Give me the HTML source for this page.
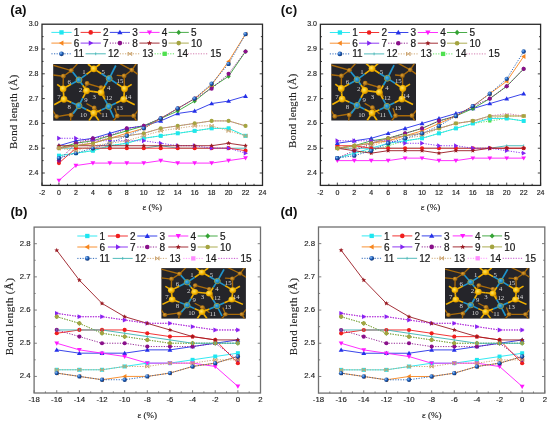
<!DOCTYPE html>
<html><head><meta charset="utf-8"><style>
html,body{margin:0;padding:0;background:#fff;}
svg{display:block;filter:blur(0.3px);}
.tl{font-family:"Liberation Sans", sans-serif;font-size:7px;fill:#222;stroke:#222;stroke-width:0.15px;}
.tl2{font-family:"Liberation Sans", sans-serif;font-size:7.8px;fill:#222;stroke:#222;stroke-width:0.15px;}
.lg{font-family:"Liberation Sans", sans-serif;font-size:10px;fill:#1a1a1a;stroke:#1a1a1a;stroke-width:0.22px;}
.ax{font-family:"Liberation Serif", serif;font-size:10.8px;letter-spacing:0.25px;fill:#222;stroke:#222;stroke-width:0.1px;}
.ax2{font-family:"Liberation Serif", serif;font-size:11px;letter-spacing:0.35px;fill:#222;stroke:#222;stroke-width:0.1px;}
.xt{font-family:"Liberation Serif", serif;font-size:9px;fill:#222;stroke:#222;stroke-width:0.15px;}
.pl{font-family:"Liberation Sans", sans-serif;font-size:13.4px;font-weight:bold;fill:#111;}
.ml{font-family:"Liberation Serif", serif;font-size:6.8px;fill:#dadada;}
</style></head><body>
<svg width="550" height="421" viewBox="0 0 550 421">
<defs>
<radialGradient id="sph" cx="0.35" cy="0.35" r="0.7"><stop offset="0" stop-color="#8fc4ff"/><stop offset="0.5" stop-color="#1d5cb5"/><stop offset="1" stop-color="#0c2e6a"/></radialGradient>
<radialGradient id="ysph" cx="0.4" cy="0.4" r="0.65"><stop offset="0" stop-color="#ffe060"/><stop offset="0.6" stop-color="#f5b800"/><stop offset="1" stop-color="#c88400"/></radialGradient>
<radialGradient id="brsph" cx="0.4" cy="0.4" r="0.65"><stop offset="0" stop-color="#e0a030"/><stop offset="1" stop-color="#8a5606"/></radialGradient>
<radialGradient id="bsph" cx="0.4" cy="0.4" r="0.65"><stop offset="0" stop-color="#40b8f0"/><stop offset="0.7" stop-color="#1a7fb8"/><stop offset="1" stop-color="#0c5a8a"/></radialGradient>
<clipPath id="mclip"><rect x="0" y="0" width="85" height="57"/></clipPath>
<g id="mol"><rect x="0" y="0" width="85" height="57" fill="#25252a"/><g clip-path="url(#mclip)">
<path d="M-1 1L18.2 6.6L25 -1M18.2 6.6L10.2 12.3L-1 11M10.2 12.3L10 22M34.1 19.6L48.2 23.7M34.1 19.6L30 28M48.2 23.7L52 33M79.2 6.1L71.4 12L64.5 11.4M79.2 6.1L86 11M71.4 12L71.6 22M66 -1L79.2 6.1L84 -1M3.5 52.9L18 50.5L24 45M-1 46L3.5 52.9M18 50.5L17.4 58M41.3 44.2L48 50M41.3 44.2L34 40M64.5 52.2L81 52.2L86 46M64.5 52.2L60 58M81 52.2L84 58M64.5 52.2L62 45" stroke="#a86a0a" stroke-width="1.4" fill="none" stroke-linecap="round"/>
<circle cx="18.2" cy="6.6" r="2.4" fill="url(#brsph)"/>
<circle cx="10.2" cy="12.3" r="2.4" fill="url(#brsph)"/>
<circle cx="34.1" cy="19.6" r="2.4" fill="url(#brsph)"/>
<circle cx="48.2" cy="23.7" r="2.4" fill="url(#brsph)"/>
<circle cx="79.2" cy="6.1" r="2.4" fill="url(#brsph)"/>
<circle cx="71.4" cy="12" r="2.4" fill="url(#brsph)"/>
<circle cx="3.5" cy="52.9" r="2.4" fill="url(#brsph)"/>
<circle cx="18" cy="51.5" r="2.4" fill="url(#brsph)"/>
<circle cx="64.5" cy="52.2" r="2.4" fill="url(#brsph)"/>
<circle cx="81" cy="52.2" r="2.4" fill="url(#brsph)"/>
<circle cx="41.3" cy="44.2" r="2.4" fill="url(#brsph)"/>
<path d="M40.9 4.9L35 0" stroke="#f0b000" stroke-width="1.7"/>
<path d="M40.9 4.9L47 0" stroke="#f0b000" stroke-width="1.7"/>
<path d="M25.9 16L19.5 8" stroke="#1e94cc" stroke-width="1.7"/>
<path d="M56.3 14.6L63 1.5" stroke="#1e94cc" stroke-width="1.7"/>
<path d="M10 24.9L4 20.5" stroke="#f0b000" stroke-width="1.7"/>
<path d="M10.9 35.5L1 41" stroke="#f0b000" stroke-width="1.7"/>
<path d="M71.8 24.9L79 20.5" stroke="#f0b000" stroke-width="1.7"/>
<path d="M70.9 35.5L82 41" stroke="#f0b000" stroke-width="1.7"/>
<path d="M25.9 41.9L20 50" stroke="#1e94cc" stroke-width="1.7"/>
<path d="M55.9 42.8L61 54" stroke="#1e94cc" stroke-width="1.7"/>
<path d="M40.9 49.5L36 57" stroke="#f0b000" stroke-width="1.7"/>
<path d="M40.9 49.5L46 57" stroke="#f0b000" stroke-width="1.7"/>
<path d="M40.9 4.9L33.40 10.45" stroke="#f0b000" stroke-width="1.7"/>
<path d="M33.40 10.45L25.9 16" stroke="#1e94cc" stroke-width="1.7"/>
<path d="M40.9 4.9L48.60 9.75" stroke="#f0b000" stroke-width="1.7"/>
<path d="M48.60 9.75L56.3 14.6" stroke="#1e94cc" stroke-width="1.7"/>
<path d="M25.9 16L29.75 21.45" stroke="#1e94cc" stroke-width="1.7"/>
<path d="M29.75 21.45L33.6 26.9" stroke="#f0b000" stroke-width="1.7"/>
<path d="M33.6 26.9L40.90 27.80" stroke="#f0b000" stroke-width="1.7"/>
<path d="M40.90 27.80L48.2 28.7" stroke="#f0b000" stroke-width="1.7"/>
<path d="M48.2 28.7L52.25 21.65" stroke="#f0b000" stroke-width="1.7"/>
<path d="M52.25 21.65L56.3 14.6" stroke="#1e94cc" stroke-width="1.7"/>
<path d="M25.9 16L17.95 20.45" stroke="#1e94cc" stroke-width="1.7"/>
<path d="M17.95 20.45L10 24.9" stroke="#f0b000" stroke-width="1.7"/>
<path d="M10 24.9L10.45 30.20" stroke="#f0b000" stroke-width="1.7"/>
<path d="M10.45 30.20L10.9 35.5" stroke="#f0b000" stroke-width="1.7"/>
<path d="M10.9 35.5L18.40 38.70" stroke="#f0b000" stroke-width="1.7"/>
<path d="M18.40 38.70L25.9 41.9" stroke="#1e94cc" stroke-width="1.7"/>
<path d="M33.6 26.9L29.75 34.40" stroke="#f0b000" stroke-width="1.7"/>
<path d="M29.75 34.40L25.9 41.9" stroke="#1e94cc" stroke-width="1.7"/>
<path d="M25.9 41.9L33.40 45.70" stroke="#1e94cc" stroke-width="1.7"/>
<path d="M33.40 45.70L40.9 49.5" stroke="#f0b000" stroke-width="1.7"/>
<path d="M40.9 49.5L48.40 46.15" stroke="#f0b000" stroke-width="1.7"/>
<path d="M48.40 46.15L55.9 42.8" stroke="#1e94cc" stroke-width="1.7"/>
<path d="M48.2 28.7L52.05 35.75" stroke="#f0b000" stroke-width="1.7"/>
<path d="M52.05 35.75L55.9 42.8" stroke="#1e94cc" stroke-width="1.7"/>
<path d="M55.9 42.8L63.40 39.15" stroke="#1e94cc" stroke-width="1.7"/>
<path d="M63.40 39.15L70.9 35.5" stroke="#f0b000" stroke-width="1.7"/>
<path d="M70.9 35.5L71.35 30.20" stroke="#f0b000" stroke-width="1.7"/>
<path d="M71.35 30.20L71.8 24.9" stroke="#f0b000" stroke-width="1.7"/>
<path d="M71.8 24.9L64.05 19.75" stroke="#f0b000" stroke-width="1.7"/>
<path d="M64.05 19.75L56.3 14.6" stroke="#1e94cc" stroke-width="1.7"/>
<circle cx="40.9" cy="4.9" r="3.4" fill="url(#ysph)"/>
<circle cx="33.6" cy="26.9" r="3.4" fill="url(#ysph)"/>
<circle cx="48.2" cy="28.7" r="3.4" fill="url(#ysph)"/>
<circle cx="10" cy="24.9" r="3.4" fill="url(#ysph)"/>
<circle cx="10.9" cy="35.5" r="3.4" fill="url(#ysph)"/>
<circle cx="71.8" cy="24.9" r="3.4" fill="url(#ysph)"/>
<circle cx="70.9" cy="35.5" r="3.4" fill="url(#ysph)"/>
<circle cx="40.9" cy="49.5" r="3.4" fill="url(#ysph)"/>
<circle cx="25.9" cy="16" r="3.0" fill="url(#bsph)" stroke="#b0a838" stroke-width="0.8"/>
<circle cx="56.3" cy="14.6" r="3.0" fill="url(#bsph)" stroke="#b0a838" stroke-width="0.8"/>
<circle cx="25.9" cy="41.9" r="3.0" fill="url(#bsph)" stroke="#b0a838" stroke-width="0.8"/>
<circle cx="55.9" cy="42.8" r="3.0" fill="url(#bsph)" stroke="#b0a838" stroke-width="0.8"/>
<text x="30.80" y="10.00" text-anchor="middle" class="ml">1</text>
<text x="50.40" y="10.00" text-anchor="middle" class="ml">5</text>
<text x="16.20" y="20.50" text-anchor="middle" class="ml">6</text>
<text x="67.20" y="19.60" text-anchor="middle" class="ml">15</text>
<text x="27.50" y="27.80" text-anchor="middle" class="ml">2</text>
<text x="55.90" y="26.00" text-anchor="middle" class="ml">4</text>
<text x="41.30" y="35.10" text-anchor="middle" class="ml">3</text>
<text x="56.20" y="36.00" text-anchor="middle" class="ml">12</text>
<text x="5.70" y="35.10" text-anchor="middle" class="ml">7</text>
<text x="75.30" y="34.70" text-anchor="middle" class="ml">14</text>
<text x="33.00" y="38.40" text-anchor="middle" class="ml">9</text>
<text x="16.20" y="45.60" text-anchor="middle" class="ml">8</text>
<text x="66.80" y="46.00" text-anchor="middle" class="ml">13</text>
<text x="30.40" y="53.30" text-anchor="middle" class="ml">10</text>
<text x="51.70" y="53.60" text-anchor="middle" class="ml">11</text>
</g></g>
</defs>
<rect width="550" height="421" fill="#fff"/>
<path d="M58.96 148.20L75.92 148.20L92.88 148.20L109.85 148.20L126.81 148.20L143.77 148.20L160.73 145.72L177.69 148.20L194.65 148.20L211.62 148.20L228.58 148.20L245.54 148.20" fill="none" stroke="#3db3b3" stroke-width="0.9"/>
<path d="M58.96 155.64L75.92 153.16L92.88 150.68L109.85 145.72L126.81 143.24L143.77 138.28L160.73 135.80L177.69 133.32L194.65 130.84L211.62 128.36L228.58 128.36L245.54 135.80" fill="none" stroke="#4fe04f" stroke-width="0.9" stroke-dasharray="1.2 1.4"/>
<path d="M58.96 155.64L75.92 153.16L92.88 150.68L109.85 145.72L126.81 143.24L143.77 138.28L160.73 135.80L177.69 133.32L194.65 130.84L211.62 128.36L228.58 128.36L245.54 135.80" fill="none" stroke="#1ee6f0" stroke-width="0.9"/>
<path d="M58.96 163.08L75.92 148.20L92.88 148.20L109.85 148.20L126.81 148.20L143.77 148.20L160.73 148.20L177.69 148.20L194.65 148.20L211.62 148.20L228.58 148.20L245.54 150.68" fill="none" stroke="#f01e1e" stroke-width="0.9"/>
<path d="M58.96 145.72L75.92 140.76L92.88 138.28L109.85 133.32L126.81 128.36L143.77 125.88L160.73 120.92L177.69 113.48L194.65 111.00L211.62 103.56L228.58 101.08L245.54 96.12" fill="none" stroke="#2430e8" stroke-width="0.9"/>
<path d="M58.96 180.44L75.92 165.56L92.88 163.08L109.85 163.08L126.81 163.08L143.77 163.08L160.73 160.60L177.69 163.08L194.65 163.08L211.62 163.08L228.58 160.60L245.54 158.12" fill="none" stroke="#ff19ff" stroke-width="0.9"/>
<path d="M58.96 148.20L75.92 143.24L92.88 140.76L109.85 135.80L126.81 130.84L143.77 125.88L160.73 118.44L177.69 111.00L194.65 101.08L211.62 87.44L228.58 76.28L245.54 51.48" fill="none" stroke="#34a334" stroke-width="0.9"/>
<path d="M58.96 148.20L75.92 145.72L92.88 143.24L109.85 138.28L126.81 133.32L143.77 128.36L160.73 118.44L177.69 108.52L194.65 98.60L211.62 84.96L228.58 61.40L245.54 34.12" fill="none" stroke="#f7861e" stroke-width="0.9"/>
<path d="M58.96 138.28L75.92 138.28L92.88 140.76L109.85 140.76L126.81 140.76L143.77 140.76L160.73 143.24L177.69 145.72L194.65 145.72L211.62 148.20L228.58 148.20L245.54 153.16" fill="none" stroke="#8224f0" stroke-width="0.9" stroke-dasharray="1.2 1.4"/>
<path d="M58.96 160.60L75.92 143.24L92.88 138.28L109.85 135.80L126.81 128.36L143.77 125.88L160.73 118.44L177.69 108.52L194.65 98.60L211.62 88.68L228.58 73.80L245.54 51.48" fill="none" stroke="#8a108a" stroke-width="0.9" stroke-dasharray="1.2 1.4"/>
<path d="M58.96 145.72L75.92 145.72L92.88 145.72L109.85 145.72L126.81 145.72L143.77 145.72L160.73 145.72L177.69 145.72L194.65 145.72L211.62 145.72L228.58 143.24L245.54 145.72" fill="none" stroke="#9a1a22" stroke-width="0.9"/>
<path d="M58.96 148.20L75.92 145.72L92.88 143.24L109.85 138.28L126.81 135.80L143.77 133.32L160.73 128.36L177.69 125.88L194.65 123.40L211.62 120.92L228.58 120.92L245.54 125.88" fill="none" stroke="#a4a440" stroke-width="0.9"/>
<path d="M58.96 158.12L75.92 153.16L92.88 148.20L109.85 143.24L126.81 135.80L143.77 128.36L160.73 118.44L177.69 108.52L194.65 98.60L211.62 83.72L228.58 63.88L245.54 34.12" fill="none" stroke="#1d5cb5" stroke-width="0.9" stroke-dasharray="1.2 1.4"/>
<path d="M58.96 148.20L75.92 150.68L92.88 145.72L109.85 143.24L126.81 140.76L143.77 135.80L160.73 130.84L177.69 128.36L194.65 125.88L211.62 125.88L228.58 130.84L245.54 135.80" fill="none" stroke="#c9a06a" stroke-width="0.9" stroke-dasharray="1.2 1.4"/>
<path d="M58.96 148.20L75.92 145.72L92.88 140.76L109.85 138.28L126.81 135.80L143.77 133.32L160.73 128.36L177.69 125.88L194.65 123.40L211.62 120.92L228.58 120.92L245.54 125.88" fill="none" stroke="#d070a8" stroke-width="0.9" stroke-dasharray="1.2 1.4"/>
<path d="M58.96 146.88V149.52" stroke="#3db3b3" stroke-width="0.8"/>
<path d="M75.92 146.88V149.52" stroke="#3db3b3" stroke-width="0.8"/>
<path d="M92.88 146.88V149.52" stroke="#3db3b3" stroke-width="0.8"/>
<path d="M109.85 146.88V149.52" stroke="#3db3b3" stroke-width="0.8"/>
<path d="M126.81 146.88V149.52" stroke="#3db3b3" stroke-width="0.8"/>
<path d="M143.77 146.88V149.52" stroke="#3db3b3" stroke-width="0.8"/>
<path d="M160.73 144.40V147.04" stroke="#3db3b3" stroke-width="0.8"/>
<path d="M177.69 146.88V149.52" stroke="#3db3b3" stroke-width="0.8"/>
<path d="M194.65 146.88V149.52" stroke="#3db3b3" stroke-width="0.8"/>
<path d="M211.62 146.88V149.52" stroke="#3db3b3" stroke-width="0.8"/>
<path d="M228.58 146.88V149.52" stroke="#3db3b3" stroke-width="0.8"/>
<path d="M245.54 146.88V149.52" stroke="#3db3b3" stroke-width="0.8"/>
<rect x="57.38" y="154.06" width="3.17" height="3.17" fill="#4fe04f"/>
<rect x="74.34" y="151.58" width="3.17" height="3.17" fill="#4fe04f"/>
<rect x="91.30" y="149.10" width="3.17" height="3.17" fill="#4fe04f"/>
<rect x="108.26" y="144.14" width="3.17" height="3.17" fill="#4fe04f"/>
<rect x="125.22" y="141.66" width="3.17" height="3.17" fill="#4fe04f"/>
<rect x="142.19" y="136.70" width="3.17" height="3.17" fill="#4fe04f"/>
<rect x="159.15" y="134.22" width="3.17" height="3.17" fill="#4fe04f"/>
<rect x="176.11" y="131.74" width="3.17" height="3.17" fill="#4fe04f"/>
<rect x="193.07" y="129.26" width="3.17" height="3.17" fill="#4fe04f"/>
<rect x="210.03" y="126.78" width="3.17" height="3.17" fill="#4fe04f"/>
<rect x="226.99" y="126.78" width="3.17" height="3.17" fill="#4fe04f"/>
<rect x="243.95" y="134.22" width="3.17" height="3.17" fill="#4fe04f"/>
<rect x="56.98" y="153.66" width="3.96" height="3.96" fill="#1ee6f0"/>
<rect x="73.94" y="151.18" width="3.96" height="3.96" fill="#1ee6f0"/>
<rect x="90.90" y="148.70" width="3.96" height="3.96" fill="#1ee6f0"/>
<rect x="107.87" y="143.74" width="3.96" height="3.96" fill="#1ee6f0"/>
<rect x="124.83" y="141.26" width="3.96" height="3.96" fill="#1ee6f0"/>
<rect x="141.79" y="136.30" width="3.96" height="3.96" fill="#1ee6f0"/>
<rect x="158.75" y="133.82" width="3.96" height="3.96" fill="#1ee6f0"/>
<rect x="175.71" y="131.34" width="3.96" height="3.96" fill="#1ee6f0"/>
<rect x="192.67" y="128.86" width="3.96" height="3.96" fill="#1ee6f0"/>
<rect x="209.64" y="126.38" width="3.96" height="3.96" fill="#1ee6f0"/>
<rect x="226.60" y="126.38" width="3.96" height="3.96" fill="#1ee6f0"/>
<rect x="243.56" y="133.82" width="3.96" height="3.96" fill="#1ee6f0"/>
<circle cx="58.96" cy="163.08" r="2.09" fill="#f01e1e"/>
<circle cx="75.92" cy="148.20" r="2.09" fill="#f01e1e"/>
<circle cx="92.88" cy="148.20" r="2.09" fill="#f01e1e"/>
<circle cx="109.85" cy="148.20" r="2.09" fill="#f01e1e"/>
<circle cx="126.81" cy="148.20" r="2.09" fill="#f01e1e"/>
<circle cx="143.77" cy="148.20" r="2.09" fill="#f01e1e"/>
<circle cx="160.73" cy="148.20" r="2.09" fill="#f01e1e"/>
<circle cx="177.69" cy="148.20" r="2.09" fill="#f01e1e"/>
<circle cx="194.65" cy="148.20" r="2.09" fill="#f01e1e"/>
<circle cx="211.62" cy="148.20" r="2.09" fill="#f01e1e"/>
<circle cx="228.58" cy="148.20" r="2.09" fill="#f01e1e"/>
<circle cx="245.54" cy="150.68" r="2.09" fill="#f01e1e"/>
<path d="M58.96 143.30L61.38 147.48L56.54 147.48Z" fill="#2430e8"/>
<path d="M75.92 138.34L78.34 142.52L73.50 142.52Z" fill="#2430e8"/>
<path d="M92.88 135.86L95.30 140.04L90.46 140.04Z" fill="#2430e8"/>
<path d="M109.85 130.90L112.27 135.08L107.43 135.08Z" fill="#2430e8"/>
<path d="M126.81 125.94L129.23 130.12L124.39 130.12Z" fill="#2430e8"/>
<path d="M143.77 123.46L146.19 127.64L141.35 127.64Z" fill="#2430e8"/>
<path d="M160.73 118.50L163.15 122.68L158.31 122.68Z" fill="#2430e8"/>
<path d="M177.69 111.06L180.11 115.24L175.27 115.24Z" fill="#2430e8"/>
<path d="M194.65 108.58L197.07 112.76L192.23 112.76Z" fill="#2430e8"/>
<path d="M211.62 101.14L214.04 105.32L209.20 105.32Z" fill="#2430e8"/>
<path d="M228.58 98.66L231.00 102.84L226.16 102.84Z" fill="#2430e8"/>
<path d="M245.54 93.70L247.96 97.88L243.12 97.88Z" fill="#2430e8"/>
<path d="M58.96 182.86L61.38 178.68L56.54 178.68Z" fill="#ff19ff"/>
<path d="M75.92 167.98L78.34 163.80L73.50 163.80Z" fill="#ff19ff"/>
<path d="M92.88 165.50L95.30 161.32L90.46 161.32Z" fill="#ff19ff"/>
<path d="M109.85 165.50L112.27 161.32L107.43 161.32Z" fill="#ff19ff"/>
<path d="M126.81 165.50L129.23 161.32L124.39 161.32Z" fill="#ff19ff"/>
<path d="M143.77 165.50L146.19 161.32L141.35 161.32Z" fill="#ff19ff"/>
<path d="M160.73 163.02L163.15 158.84L158.31 158.84Z" fill="#ff19ff"/>
<path d="M177.69 165.50L180.11 161.32L175.27 161.32Z" fill="#ff19ff"/>
<path d="M194.65 165.50L197.07 161.32L192.23 161.32Z" fill="#ff19ff"/>
<path d="M211.62 165.50L214.04 161.32L209.20 161.32Z" fill="#ff19ff"/>
<path d="M228.58 163.02L231.00 158.84L226.16 158.84Z" fill="#ff19ff"/>
<path d="M245.54 160.54L247.96 156.36L243.12 156.36Z" fill="#ff19ff"/>
<path d="M58.96 145.78L61.16 148.20L58.96 150.62L56.76 148.20Z" fill="#34a334"/>
<path d="M75.92 140.82L78.12 143.24L75.92 145.66L73.72 143.24Z" fill="#34a334"/>
<path d="M92.88 138.34L95.08 140.76L92.88 143.18L90.68 140.76Z" fill="#34a334"/>
<path d="M109.85 133.38L112.05 135.80L109.85 138.22L107.65 135.80Z" fill="#34a334"/>
<path d="M126.81 128.42L129.01 130.84L126.81 133.26L124.61 130.84Z" fill="#34a334"/>
<path d="M143.77 123.46L145.97 125.88L143.77 128.30L141.57 125.88Z" fill="#34a334"/>
<path d="M160.73 116.02L162.93 118.44L160.73 120.86L158.53 118.44Z" fill="#34a334"/>
<path d="M177.69 108.58L179.89 111.00L177.69 113.42L175.49 111.00Z" fill="#34a334"/>
<path d="M194.65 98.66L196.85 101.08L194.65 103.50L192.45 101.08Z" fill="#34a334"/>
<path d="M211.62 85.02L213.82 87.44L211.62 89.86L209.42 87.44Z" fill="#34a334"/>
<path d="M228.58 73.86L230.78 76.28L228.58 78.70L226.38 76.28Z" fill="#34a334"/>
<path d="M245.54 49.06L247.74 51.48L245.54 53.90L243.34 51.48Z" fill="#34a334"/>
<path d="M56.54 148.20L60.72 145.78L60.72 150.62Z" fill="#f7861e"/>
<path d="M73.50 145.72L77.68 143.30L77.68 148.14Z" fill="#f7861e"/>
<path d="M90.46 143.24L94.64 140.82L94.64 145.66Z" fill="#f7861e"/>
<path d="M107.43 138.28L111.61 135.86L111.61 140.70Z" fill="#f7861e"/>
<path d="M124.39 133.32L128.57 130.90L128.57 135.74Z" fill="#f7861e"/>
<path d="M141.35 128.36L145.53 125.94L145.53 130.78Z" fill="#f7861e"/>
<path d="M158.31 118.44L162.49 116.02L162.49 120.86Z" fill="#f7861e"/>
<path d="M175.27 108.52L179.45 106.10L179.45 110.94Z" fill="#f7861e"/>
<path d="M192.23 98.60L196.41 96.18L196.41 101.02Z" fill="#f7861e"/>
<path d="M209.20 84.96L213.38 82.54L213.38 87.38Z" fill="#f7861e"/>
<path d="M226.16 61.40L230.34 58.98L230.34 63.82Z" fill="#f7861e"/>
<path d="M243.12 34.12L247.30 31.70L247.30 36.54Z" fill="#f7861e"/>
<path d="M61.38 138.28L57.20 135.86L57.20 140.70Z" fill="#8224f0"/>
<path d="M78.34 138.28L74.16 135.86L74.16 140.70Z" fill="#8224f0"/>
<path d="M95.30 140.76L91.12 138.34L91.12 143.18Z" fill="#8224f0"/>
<path d="M112.27 140.76L108.09 138.34L108.09 143.18Z" fill="#8224f0"/>
<path d="M129.23 140.76L125.05 138.34L125.05 143.18Z" fill="#8224f0"/>
<path d="M146.19 140.76L142.01 138.34L142.01 143.18Z" fill="#8224f0"/>
<path d="M163.15 143.24L158.97 140.82L158.97 145.66Z" fill="#8224f0"/>
<path d="M180.11 145.72L175.93 143.30L175.93 148.14Z" fill="#8224f0"/>
<path d="M197.07 145.72L192.89 143.30L192.89 148.14Z" fill="#8224f0"/>
<path d="M214.04 148.20L209.86 145.78L209.86 150.62Z" fill="#8224f0"/>
<path d="M231.00 148.20L226.82 145.78L226.82 150.62Z" fill="#8224f0"/>
<path d="M247.96 153.16L243.78 150.74L243.78 155.58Z" fill="#8224f0"/>
<circle cx="58.96" cy="160.60" r="2.09" fill="#8a108a"/>
<circle cx="75.92" cy="143.24" r="2.09" fill="#8a108a"/>
<circle cx="92.88" cy="138.28" r="2.09" fill="#8a108a"/>
<circle cx="109.85" cy="135.80" r="2.09" fill="#8a108a"/>
<circle cx="126.81" cy="128.36" r="2.09" fill="#8a108a"/>
<circle cx="143.77" cy="125.88" r="2.09" fill="#8a108a"/>
<circle cx="160.73" cy="118.44" r="2.09" fill="#8a108a"/>
<circle cx="177.69" cy="108.52" r="2.09" fill="#8a108a"/>
<circle cx="194.65" cy="98.60" r="2.09" fill="#8a108a"/>
<circle cx="211.62" cy="88.68" r="2.09" fill="#8a108a"/>
<circle cx="228.58" cy="73.80" r="2.09" fill="#8a108a"/>
<circle cx="245.54" cy="51.48" r="2.09" fill="#8a108a"/>
<path d="M58.96 143.19L59.61 144.83L61.37 144.94L60.01 146.06L60.45 147.77L58.96 146.82L57.47 147.77L57.92 146.06L56.56 144.94L58.31 144.83Z" fill="#9a1a22"/>
<path d="M75.92 143.19L76.57 144.83L78.33 144.94L76.97 146.06L77.41 147.77L75.92 146.82L74.44 147.77L74.88 146.06L73.52 144.94L75.28 144.83Z" fill="#9a1a22"/>
<path d="M92.88 143.19L93.53 144.83L95.29 144.94L93.93 146.06L94.37 147.77L92.88 146.82L91.40 147.77L91.84 146.06L90.48 144.94L92.24 144.83Z" fill="#9a1a22"/>
<path d="M109.85 143.19L110.49 144.83L112.25 144.94L110.89 146.06L111.33 147.77L109.85 146.82L108.36 147.77L108.80 146.06L107.44 144.94L109.20 144.83Z" fill="#9a1a22"/>
<path d="M126.81 143.19L127.45 144.83L129.21 144.94L127.85 146.06L128.29 147.77L126.81 146.82L125.32 147.77L125.76 146.06L124.40 144.94L126.16 144.83Z" fill="#9a1a22"/>
<path d="M143.77 143.19L144.42 144.83L146.18 144.94L144.82 146.06L145.26 147.77L143.77 146.82L142.28 147.77L142.72 146.06L141.36 144.94L143.12 144.83Z" fill="#9a1a22"/>
<path d="M160.73 143.19L161.38 144.83L163.14 144.94L161.78 146.06L162.22 147.77L160.73 146.82L159.24 147.77L159.68 146.06L158.32 144.94L160.08 144.83Z" fill="#9a1a22"/>
<path d="M177.69 143.19L178.34 144.83L180.10 144.94L178.74 146.06L179.18 147.77L177.69 146.82L176.21 147.77L176.65 146.06L175.29 144.94L177.05 144.83Z" fill="#9a1a22"/>
<path d="M194.65 143.19L195.30 144.83L197.06 144.94L195.70 146.06L196.14 147.77L194.65 146.82L193.17 147.77L193.61 146.06L192.25 144.94L194.01 144.83Z" fill="#9a1a22"/>
<path d="M211.62 143.19L212.26 144.83L214.02 144.94L212.66 146.06L213.10 147.77L211.62 146.82L210.13 147.77L210.57 146.06L209.21 144.94L210.97 144.83Z" fill="#9a1a22"/>
<path d="M228.58 140.71L229.22 142.35L230.98 142.46L229.62 143.58L230.06 145.29L228.58 144.34L227.09 145.29L227.53 143.58L226.17 142.46L227.93 142.35Z" fill="#9a1a22"/>
<path d="M245.54 143.19L246.19 144.83L247.94 144.94L246.58 146.06L247.03 147.77L245.54 146.82L244.05 147.77L244.49 146.06L243.13 144.94L244.89 144.83Z" fill="#9a1a22"/>
<circle cx="58.96" cy="148.20" r="2.09" fill="#a4a440"/>
<circle cx="75.92" cy="145.72" r="2.09" fill="#a4a440"/>
<circle cx="92.88" cy="143.24" r="2.09" fill="#a4a440"/>
<circle cx="109.85" cy="138.28" r="2.09" fill="#a4a440"/>
<circle cx="126.81" cy="135.80" r="2.09" fill="#a4a440"/>
<circle cx="143.77" cy="133.32" r="2.09" fill="#a4a440"/>
<circle cx="160.73" cy="128.36" r="2.09" fill="#a4a440"/>
<circle cx="177.69" cy="125.88" r="2.09" fill="#a4a440"/>
<circle cx="194.65" cy="123.40" r="2.09" fill="#a4a440"/>
<circle cx="211.62" cy="120.92" r="2.09" fill="#a4a440"/>
<circle cx="228.58" cy="120.92" r="2.09" fill="#a4a440"/>
<circle cx="245.54" cy="125.88" r="2.09" fill="#a4a440"/>
<circle cx="58.96" cy="158.12" r="2.20" fill="url(#sph)"/>
<circle cx="75.92" cy="153.16" r="2.20" fill="url(#sph)"/>
<circle cx="92.88" cy="148.20" r="2.20" fill="url(#sph)"/>
<circle cx="109.85" cy="143.24" r="2.20" fill="url(#sph)"/>
<circle cx="126.81" cy="135.80" r="2.20" fill="url(#sph)"/>
<circle cx="143.77" cy="128.36" r="2.20" fill="url(#sph)"/>
<circle cx="160.73" cy="118.44" r="2.20" fill="url(#sph)"/>
<circle cx="177.69" cy="108.52" r="2.20" fill="url(#sph)"/>
<circle cx="194.65" cy="98.60" r="2.20" fill="url(#sph)"/>
<circle cx="211.62" cy="83.72" r="2.20" fill="url(#sph)"/>
<circle cx="228.58" cy="63.88" r="2.20" fill="url(#sph)"/>
<circle cx="245.54" cy="34.12" r="2.20" fill="url(#sph)"/>
<path d="M57.31 146.55L60.61 149.85M60.61 146.55L57.31 149.85M57.31 146.55V149.85M60.61 146.55V149.85" stroke="#c9a06a" stroke-width="0.9" fill="none"/>
<path d="M74.27 149.03L77.57 152.33M77.57 149.03L74.27 152.33M74.27 149.03V152.33M77.57 149.03V152.33" stroke="#c9a06a" stroke-width="0.9" fill="none"/>
<path d="M91.23 144.07L94.53 147.37M94.53 144.07L91.23 147.37M91.23 144.07V147.37M94.53 144.07V147.37" stroke="#c9a06a" stroke-width="0.9" fill="none"/>
<path d="M108.20 141.59L111.50 144.89M111.50 141.59L108.20 144.89M108.20 141.59V144.89M111.50 141.59V144.89" stroke="#c9a06a" stroke-width="0.9" fill="none"/>
<path d="M125.16 139.11L128.46 142.41M128.46 139.11L125.16 142.41M125.16 139.11V142.41M128.46 139.11V142.41" stroke="#c9a06a" stroke-width="0.9" fill="none"/>
<path d="M142.12 134.15L145.42 137.45M145.42 134.15L142.12 137.45M142.12 134.15V137.45M145.42 134.15V137.45" stroke="#c9a06a" stroke-width="0.9" fill="none"/>
<path d="M159.08 129.19L162.38 132.49M162.38 129.19L159.08 132.49M159.08 129.19V132.49M162.38 129.19V132.49" stroke="#c9a06a" stroke-width="0.9" fill="none"/>
<path d="M176.04 126.71L179.34 130.01M179.34 126.71L176.04 130.01M176.04 126.71V130.01M179.34 126.71V130.01" stroke="#c9a06a" stroke-width="0.9" fill="none"/>
<path d="M193.00 124.23L196.30 127.53M196.30 124.23L193.00 127.53M193.00 124.23V127.53M196.30 124.23V127.53" stroke="#c9a06a" stroke-width="0.9" fill="none"/>
<path d="M209.97 124.23L213.27 127.53M213.27 124.23L209.97 127.53M209.97 124.23V127.53M213.27 124.23V127.53" stroke="#c9a06a" stroke-width="0.9" fill="none"/>
<path d="M226.93 129.19L230.23 132.49M230.23 129.19L226.93 132.49M226.93 129.19V132.49M230.23 129.19V132.49" stroke="#c9a06a" stroke-width="0.9" fill="none"/>
<path d="M243.89 134.15L247.19 137.45M247.19 134.15L243.89 137.45M243.89 134.15V137.45M247.19 134.15V137.45" stroke="#c9a06a" stroke-width="0.9" fill="none"/>












<rect x="42.00" y="24.20" width="220.50" height="161.20" fill="none" stroke="#2a2a2a" stroke-width="1.3"/>
<path d="M42.00 185.40v-2.8M50.48 185.40v-1.6M58.96 185.40v-2.8M67.44 185.40v-1.6M75.92 185.40v-2.8M84.40 185.40v-1.6M92.88 185.40v-2.8M101.37 185.40v-1.6M109.85 185.40v-2.8M118.33 185.40v-1.6M126.81 185.40v-2.8M135.29 185.40v-1.6M143.77 185.40v-2.8M152.25 185.40v-1.6M160.73 185.40v-2.8M169.21 185.40v-1.6M177.69 185.40v-2.8M186.17 185.40v-1.6M194.65 185.40v-2.8M203.13 185.40v-1.6M211.62 185.40v-2.8M220.10 185.40v-1.6M228.58 185.40v-2.8M237.06 185.40v-1.6M245.54 185.40v-2.8M254.02 185.40v-1.6M262.50 185.40v-2.8M42.00 173.00h2.8M262.50 173.00h-2.8M42.00 160.60h1.6M262.50 160.60h-1.6M42.00 148.20h2.8M262.50 148.20h-2.8M42.00 135.80h1.6M262.50 135.80h-1.6M42.00 123.40h2.8M262.50 123.40h-2.8M42.00 111.00h1.6M262.50 111.00h-1.6M42.00 98.60h2.8M262.50 98.60h-2.8M42.00 86.20h1.6M262.50 86.20h-1.6M42.00 73.80h2.8M262.50 73.80h-2.8M42.00 61.40h1.6M262.50 61.40h-1.6M42.00 49.00h2.8M262.50 49.00h-2.8M42.00 36.60h1.6M262.50 36.60h-1.6" stroke="#2a2a2a" stroke-width="0.9" fill="none"/>
<text x="42.00" y="195.20" text-anchor="middle" class="tl">-2</text>
<text x="58.96" y="195.20" text-anchor="middle" class="tl">0</text>
<text x="75.92" y="195.20" text-anchor="middle" class="tl">2</text>
<text x="92.88" y="195.20" text-anchor="middle" class="tl">4</text>
<text x="109.85" y="195.20" text-anchor="middle" class="tl">6</text>
<text x="126.81" y="195.20" text-anchor="middle" class="tl">8</text>
<text x="143.77" y="195.20" text-anchor="middle" class="tl">10</text>
<text x="160.73" y="195.20" text-anchor="middle" class="tl">12</text>
<text x="177.69" y="195.20" text-anchor="middle" class="tl">14</text>
<text x="194.65" y="195.20" text-anchor="middle" class="tl">16</text>
<text x="211.62" y="195.20" text-anchor="middle" class="tl">18</text>
<text x="228.58" y="195.20" text-anchor="middle" class="tl">20</text>
<text x="245.54" y="195.20" text-anchor="middle" class="tl">22</text>
<text x="262.50" y="195.20" text-anchor="middle" class="tl">24</text>
<text x="38.50" y="175.00" text-anchor="end" class="tl">2.4</text>
<text x="38.50" y="150.20" text-anchor="end" class="tl">2.5</text>
<text x="38.50" y="125.40" text-anchor="end" class="tl">2.6</text>
<text x="38.50" y="100.60" text-anchor="end" class="tl">2.7</text>
<text x="38.50" y="75.80" text-anchor="end" class="tl">2.8</text>
<text x="38.50" y="51.00" text-anchor="end" class="tl">2.9</text>
<text x="38.50" y="26.20" text-anchor="end" class="tl">3.0</text>
<text x="152.25" y="209.50" text-anchor="middle" class="xt">ε (%)</text>
<text transform="translate(16.80 111.70) rotate(-90)" text-anchor="middle" class="ax">Bond length (Å)</text>
<text x="10.2" y="13.8" class="pl">(a)</text>
<path d="M51.40 32.40L71.60 32.40" fill="none" stroke="#1ee6f0" stroke-width="0.9"/>
<rect x="59.34" y="30.24" width="4.32" height="4.32" fill="#1ee6f0"/>
<text x="73.80" y="35.90" class="lg">1</text>
<path d="M80.60 32.40L100.80 32.40" fill="none" stroke="#f01e1e" stroke-width="0.9"/>
<circle cx="90.70" cy="32.40" r="2.28" fill="#f01e1e"/>
<text x="103.00" y="35.90" class="lg">2</text>
<path d="M109.80 32.40L130.00 32.40" fill="none" stroke="#2430e8" stroke-width="0.9"/>
<path d="M119.90 29.76L122.54 34.32L117.26 34.32Z" fill="#2430e8"/>
<text x="132.20" y="35.90" class="lg">3</text>
<path d="M139.40 32.40L159.60 32.40" fill="none" stroke="#ff19ff" stroke-width="0.9"/>
<path d="M149.50 35.04L152.14 30.48L146.86 30.48Z" fill="#ff19ff"/>
<text x="161.80" y="35.90" class="lg">4</text>
<path d="M168.60 32.40L188.80 32.40" fill="none" stroke="#34a334" stroke-width="0.9"/>
<path d="M178.70 29.76L181.10 32.40L178.70 35.04L176.30 32.40Z" fill="#34a334"/>
<text x="191.00" y="35.90" class="lg">5</text>
<path d="M51.40 43.10L71.60 43.10" fill="none" stroke="#f7861e" stroke-width="0.9"/>
<path d="M58.86 43.10L63.42 40.46L63.42 45.74Z" fill="#f7861e"/>
<text x="73.80" y="46.60" class="lg">6</text>
<path d="M80.60 43.10L100.80 43.10" fill="none" stroke="#8224f0" stroke-width="0.9"/>
<path d="M93.34 43.10L88.78 40.46L88.78 45.74Z" fill="#8224f0"/>
<text x="103.00" y="46.60" class="lg">7</text>
<path d="M109.80 43.10L130.00 43.10" fill="none" stroke="#8a108a" stroke-width="0.9" stroke-dasharray="1.2 1.4"/>
<circle cx="119.90" cy="43.10" r="2.28" fill="#8a108a"/>
<text x="132.20" y="46.60" class="lg">8</text>
<path d="M139.40 43.10L159.60 43.10" fill="none" stroke="#9a1a22" stroke-width="0.9"/>
<path d="M149.50 40.34L150.21 42.13L152.12 42.25L150.64 43.47L151.12 45.33L149.50 44.30L147.88 45.33L148.36 43.47L146.88 42.25L148.79 42.13Z" fill="#9a1a22"/>
<text x="161.80" y="46.60" class="lg">9</text>
<path d="M168.60 43.10L188.80 43.10" fill="none" stroke="#a4a440" stroke-width="0.9"/>
<circle cx="178.70" cy="43.10" r="2.28" fill="#a4a440"/>
<text x="191.00" y="46.60" class="lg">10</text>
<path d="M51.40 53.80L71.60 53.80" fill="none" stroke="#1d5cb5" stroke-width="0.9" stroke-dasharray="1.2 1.4"/>
<circle cx="61.50" cy="53.80" r="2.40" fill="url(#sph)"/>
<text x="73.80" y="57.30" class="lg">11</text>
<path d="M85.60 53.80L105.80 53.80" fill="none" stroke="#3db3b3" stroke-width="0.9"/>
<path d="M95.70 52.36V55.24" stroke="#3db3b3" stroke-width="0.8"/>
<text x="108.00" y="57.30" class="lg">12</text>
<path d="M119.80 53.80L140.00 53.80" fill="none" stroke="#c9a06a" stroke-width="0.9" stroke-dasharray="1.2 1.4"/>
<path d="M128.10 52.00L131.70 55.60M131.70 52.00L128.10 55.60M128.10 52.00V55.60M131.70 52.00V55.60" stroke="#c9a06a" stroke-width="0.9" fill="none"/>
<text x="142.20" y="57.30" class="lg">13</text>
<path d="M154.60 53.80L174.80 53.80" fill="none" stroke="#4fe04f" stroke-width="0.9" stroke-dasharray="1.2 1.4"/>
<rect x="162.54" y="51.64" width="4.32" height="4.32" fill="#4fe04f"/>
<text x="177.00" y="57.30" class="lg">14</text>
<path d="M187.80 53.80L208.00 53.80" fill="none" stroke="#d070a8" stroke-width="0.9" stroke-dasharray="1.2 1.4"/>

<text x="210.20" y="57.30" class="lg">15</text>
<g transform="translate(53.2 64) scale(0.9941 0.9947)"><use href="#mol"/></g>
<path d="M337.34 158.14L354.28 153.18L371.22 150.70L388.15 145.74L405.09 140.79L422.03 138.31L438.97 133.35L455.91 128.40L472.85 123.44L489.78 120.96L506.72 118.48L523.66 120.96" fill="none" stroke="#4fe04f" stroke-width="0.9" stroke-dasharray="1.2 1.4"/>
<path d="M337.34 148.22L354.28 148.22L371.22 148.22L388.15 148.22L405.09 148.22L422.03 148.22L438.97 148.22L455.91 148.22L472.85 148.22L489.78 148.22L506.72 145.74L523.66 145.74" fill="none" stroke="#3db3b3" stroke-width="0.9"/>
<path d="M337.34 148.22L354.28 148.22L371.22 145.74L388.15 140.79L405.09 138.31L422.03 135.83L438.97 128.40L455.91 123.44L472.85 120.96L489.78 118.48L506.72 116.00L523.66 116.00" fill="none" stroke="#c9a06a" stroke-width="0.9" stroke-dasharray="1.2 1.4"/>
<path d="M337.34 158.14L354.28 153.18L371.22 148.22L388.15 143.27L405.09 140.79L422.03 138.31L438.97 133.35L455.91 128.40L472.85 123.44L489.78 118.48L506.72 118.48L523.66 120.96" fill="none" stroke="#1ee6f0" stroke-width="0.9"/>
<path d="M337.34 145.74L354.28 145.74L371.22 148.22L388.15 148.22L405.09 148.22L422.03 148.22L438.97 148.22L455.91 148.22L472.85 148.22L489.78 148.22L506.72 148.22L523.66 148.22" fill="none" stroke="#f01e1e" stroke-width="0.9"/>
<path d="M337.34 143.27L354.28 140.79L371.22 138.31L388.15 133.35L405.09 128.40L422.03 123.44L438.97 118.48L455.91 113.52L472.85 108.57L489.78 103.61L506.72 98.65L523.66 93.70" fill="none" stroke="#2430e8" stroke-width="0.9"/>
<path d="M337.34 160.62L354.28 160.62L371.22 160.62L388.15 160.62L405.09 158.14L422.03 158.14L438.97 160.62L455.91 160.62L472.85 158.14L489.78 158.14L506.72 158.14L523.66 158.14" fill="none" stroke="#ff19ff" stroke-width="0.9"/>
<path d="M337.34 148.22L354.28 145.74L371.22 140.79L388.15 138.31L405.09 133.35L422.03 128.40L438.97 120.96L455.91 116.00L472.85 108.57L489.78 98.65L506.72 86.26L523.66 68.91" fill="none" stroke="#34a334" stroke-width="0.9"/>
<path d="M337.34 148.22L354.28 145.74L371.22 143.27L388.15 140.79L405.09 135.83L422.03 130.87L438.97 123.44L455.91 116.00L472.85 106.09L489.78 93.70L506.72 81.30L523.66 56.52" fill="none" stroke="#f7861e" stroke-width="0.9"/>
<path d="M337.34 140.79L354.28 140.79L371.22 140.79L388.15 140.79L405.09 143.27L422.03 143.27L438.97 145.74L455.91 145.74L472.85 148.22L489.78 148.22L506.72 150.70L523.66 153.18" fill="none" stroke="#8224f0" stroke-width="0.9" stroke-dasharray="1.2 1.4"/>
<path d="M337.34 158.14L354.28 150.70L371.22 143.27L388.15 138.31L405.09 133.35L422.03 128.40L438.97 120.96L455.91 116.00L472.85 106.09L489.78 98.65L506.72 86.26L523.66 68.91" fill="none" stroke="#8a108a" stroke-width="0.9" stroke-dasharray="1.2 1.4"/>
<path d="M337.34 148.22L354.28 150.70L371.22 153.18L388.15 150.70L405.09 150.70L422.03 150.70L438.97 153.18L455.91 150.70L472.85 150.70L489.78 148.22L506.72 148.22L523.66 148.22" fill="none" stroke="#9a1a22" stroke-width="0.9"/>
<path d="M337.34 148.22L354.28 145.74L371.22 143.27L388.15 138.31L405.09 135.83L422.03 133.35L438.97 128.40L455.91 123.44L472.85 120.96L489.78 116.00L506.72 116.00L523.66 116.00" fill="none" stroke="#a4a440" stroke-width="0.9"/>
<path d="M337.34 158.14L354.28 155.66L371.22 150.70L388.15 143.27L405.09 138.31L422.03 133.35L438.97 125.92L455.91 116.00L472.85 106.09L489.78 93.70L506.72 78.83L523.66 51.56" fill="none" stroke="#1d5cb5" stroke-width="0.9" stroke-dasharray="1.2 1.4"/>
<path d="M337.34 148.22L354.28 145.74L371.22 143.27L388.15 138.31L405.09 135.83L422.03 133.35L438.97 128.40L455.91 123.44L472.85 120.96L489.78 116.00L506.72 113.52L523.66 116.00" fill="none" stroke="#d070a8" stroke-width="0.9" stroke-dasharray="1.2 1.4"/>
<rect x="335.75" y="156.55" width="3.17" height="3.17" fill="#4fe04f"/>
<rect x="352.69" y="151.60" width="3.17" height="3.17" fill="#4fe04f"/>
<rect x="369.63" y="149.12" width="3.17" height="3.17" fill="#4fe04f"/>
<rect x="386.57" y="144.16" width="3.17" height="3.17" fill="#4fe04f"/>
<rect x="403.51" y="139.20" width="3.17" height="3.17" fill="#4fe04f"/>
<rect x="420.45" y="136.73" width="3.17" height="3.17" fill="#4fe04f"/>
<rect x="437.39" y="131.77" width="3.17" height="3.17" fill="#4fe04f"/>
<rect x="454.32" y="126.81" width="3.17" height="3.17" fill="#4fe04f"/>
<rect x="471.26" y="121.85" width="3.17" height="3.17" fill="#4fe04f"/>
<rect x="488.20" y="119.38" width="3.17" height="3.17" fill="#4fe04f"/>
<rect x="505.14" y="116.90" width="3.17" height="3.17" fill="#4fe04f"/>
<rect x="522.08" y="119.38" width="3.17" height="3.17" fill="#4fe04f"/>
<path d="M337.34 146.90V149.54" stroke="#3db3b3" stroke-width="0.8"/>
<path d="M354.28 146.90V149.54" stroke="#3db3b3" stroke-width="0.8"/>
<path d="M371.22 146.90V149.54" stroke="#3db3b3" stroke-width="0.8"/>
<path d="M388.15 146.90V149.54" stroke="#3db3b3" stroke-width="0.8"/>
<path d="M405.09 146.90V149.54" stroke="#3db3b3" stroke-width="0.8"/>
<path d="M422.03 146.90V149.54" stroke="#3db3b3" stroke-width="0.8"/>
<path d="M438.97 146.90V149.54" stroke="#3db3b3" stroke-width="0.8"/>
<path d="M455.91 146.90V149.54" stroke="#3db3b3" stroke-width="0.8"/>
<path d="M472.85 146.90V149.54" stroke="#3db3b3" stroke-width="0.8"/>
<path d="M489.78 146.90V149.54" stroke="#3db3b3" stroke-width="0.8"/>
<path d="M506.72 144.42V147.06" stroke="#3db3b3" stroke-width="0.8"/>
<path d="M523.66 144.42V147.06" stroke="#3db3b3" stroke-width="0.8"/>
<path d="M335.69 146.57L338.99 149.87M338.99 146.57L335.69 149.87M335.69 146.57V149.87M338.99 146.57V149.87" stroke="#c9a06a" stroke-width="0.9" fill="none"/>
<path d="M352.63 146.57L355.93 149.87M355.93 146.57L352.63 149.87M352.63 146.57V149.87M355.93 146.57V149.87" stroke="#c9a06a" stroke-width="0.9" fill="none"/>
<path d="M369.57 144.09L372.87 147.39M372.87 144.09L369.57 147.39M369.57 144.09V147.39M372.87 144.09V147.39" stroke="#c9a06a" stroke-width="0.9" fill="none"/>
<path d="M386.50 139.14L389.80 142.44M389.80 139.14L386.50 142.44M386.50 139.14V142.44M389.80 139.14V142.44" stroke="#c9a06a" stroke-width="0.9" fill="none"/>
<path d="M403.44 136.66L406.74 139.96M406.74 136.66L403.44 139.96M403.44 136.66V139.96M406.74 136.66V139.96" stroke="#c9a06a" stroke-width="0.9" fill="none"/>
<path d="M420.38 134.18L423.68 137.48M423.68 134.18L420.38 137.48M420.38 134.18V137.48M423.68 134.18V137.48" stroke="#c9a06a" stroke-width="0.9" fill="none"/>
<path d="M437.32 126.75L440.62 130.05M440.62 126.75L437.32 130.05M437.32 126.75V130.05M440.62 126.75V130.05" stroke="#c9a06a" stroke-width="0.9" fill="none"/>
<path d="M454.26 121.79L457.56 125.09M457.56 121.79L454.26 125.09M454.26 121.79V125.09M457.56 121.79V125.09" stroke="#c9a06a" stroke-width="0.9" fill="none"/>
<path d="M471.20 119.31L474.50 122.61M474.50 119.31L471.20 122.61M471.20 119.31V122.61M474.50 119.31V122.61" stroke="#c9a06a" stroke-width="0.9" fill="none"/>
<path d="M488.13 116.83L491.43 120.13M491.43 116.83L488.13 120.13M488.13 116.83V120.13M491.43 116.83V120.13" stroke="#c9a06a" stroke-width="0.9" fill="none"/>
<path d="M505.07 114.35L508.37 117.65M508.37 114.35L505.07 117.65M505.07 114.35V117.65M508.37 114.35V117.65" stroke="#c9a06a" stroke-width="0.9" fill="none"/>
<path d="M522.01 114.35L525.31 117.65M525.31 114.35L522.01 117.65M522.01 114.35V117.65M525.31 114.35V117.65" stroke="#c9a06a" stroke-width="0.9" fill="none"/>
<rect x="335.36" y="156.16" width="3.96" height="3.96" fill="#1ee6f0"/>
<rect x="352.30" y="151.20" width="3.96" height="3.96" fill="#1ee6f0"/>
<rect x="369.24" y="146.24" width="3.96" height="3.96" fill="#1ee6f0"/>
<rect x="386.17" y="141.29" width="3.96" height="3.96" fill="#1ee6f0"/>
<rect x="403.11" y="138.81" width="3.96" height="3.96" fill="#1ee6f0"/>
<rect x="420.05" y="136.33" width="3.96" height="3.96" fill="#1ee6f0"/>
<rect x="436.99" y="131.37" width="3.96" height="3.96" fill="#1ee6f0"/>
<rect x="453.93" y="126.42" width="3.96" height="3.96" fill="#1ee6f0"/>
<rect x="470.87" y="121.46" width="3.96" height="3.96" fill="#1ee6f0"/>
<rect x="487.80" y="116.50" width="3.96" height="3.96" fill="#1ee6f0"/>
<rect x="504.74" y="116.50" width="3.96" height="3.96" fill="#1ee6f0"/>
<rect x="521.68" y="118.98" width="3.96" height="3.96" fill="#1ee6f0"/>
<circle cx="337.34" cy="145.74" r="2.09" fill="#f01e1e"/>
<circle cx="354.28" cy="145.74" r="2.09" fill="#f01e1e"/>
<circle cx="371.22" cy="148.22" r="2.09" fill="#f01e1e"/>
<circle cx="388.15" cy="148.22" r="2.09" fill="#f01e1e"/>
<circle cx="405.09" cy="148.22" r="2.09" fill="#f01e1e"/>
<circle cx="422.03" cy="148.22" r="2.09" fill="#f01e1e"/>
<circle cx="438.97" cy="148.22" r="2.09" fill="#f01e1e"/>
<circle cx="455.91" cy="148.22" r="2.09" fill="#f01e1e"/>
<circle cx="472.85" cy="148.22" r="2.09" fill="#f01e1e"/>
<circle cx="489.78" cy="148.22" r="2.09" fill="#f01e1e"/>
<circle cx="506.72" cy="148.22" r="2.09" fill="#f01e1e"/>
<circle cx="523.66" cy="148.22" r="2.09" fill="#f01e1e"/>
<path d="M337.34 140.85L339.76 145.03L334.92 145.03Z" fill="#2430e8"/>
<path d="M354.28 138.37L356.70 142.55L351.86 142.55Z" fill="#2430e8"/>
<path d="M371.22 135.89L373.64 140.07L368.80 140.07Z" fill="#2430e8"/>
<path d="M388.15 130.93L390.57 135.11L385.73 135.11Z" fill="#2430e8"/>
<path d="M405.09 125.98L407.51 130.16L402.67 130.16Z" fill="#2430e8"/>
<path d="M422.03 121.02L424.45 125.20L419.61 125.20Z" fill="#2430e8"/>
<path d="M438.97 116.06L441.39 120.24L436.55 120.24Z" fill="#2430e8"/>
<path d="M455.91 111.10L458.33 115.28L453.49 115.28Z" fill="#2430e8"/>
<path d="M472.85 106.15L475.27 110.33L470.43 110.33Z" fill="#2430e8"/>
<path d="M489.78 101.19L492.20 105.37L487.36 105.37Z" fill="#2430e8"/>
<path d="M506.72 96.23L509.14 100.41L504.30 100.41Z" fill="#2430e8"/>
<path d="M523.66 91.28L526.08 95.46L521.24 95.46Z" fill="#2430e8"/>
<path d="M337.34 163.04L339.76 158.86L334.92 158.86Z" fill="#ff19ff"/>
<path d="M354.28 163.04L356.70 158.86L351.86 158.86Z" fill="#ff19ff"/>
<path d="M371.22 163.04L373.64 158.86L368.80 158.86Z" fill="#ff19ff"/>
<path d="M388.15 163.04L390.57 158.86L385.73 158.86Z" fill="#ff19ff"/>
<path d="M405.09 160.56L407.51 156.38L402.67 156.38Z" fill="#ff19ff"/>
<path d="M422.03 160.56L424.45 156.38L419.61 156.38Z" fill="#ff19ff"/>
<path d="M438.97 163.04L441.39 158.86L436.55 158.86Z" fill="#ff19ff"/>
<path d="M455.91 163.04L458.33 158.86L453.49 158.86Z" fill="#ff19ff"/>
<path d="M472.85 160.56L475.27 156.38L470.43 156.38Z" fill="#ff19ff"/>
<path d="M489.78 160.56L492.20 156.38L487.36 156.38Z" fill="#ff19ff"/>
<path d="M506.72 160.56L509.14 156.38L504.30 156.38Z" fill="#ff19ff"/>
<path d="M523.66 160.56L526.08 156.38L521.24 156.38Z" fill="#ff19ff"/>
<path d="M337.34 145.80L339.54 148.22L337.34 150.64L335.14 148.22Z" fill="#34a334"/>
<path d="M354.28 143.32L356.48 145.74L354.28 148.16L352.08 145.74Z" fill="#34a334"/>
<path d="M371.22 138.37L373.42 140.79L371.22 143.21L369.02 140.79Z" fill="#34a334"/>
<path d="M388.15 135.89L390.35 138.31L388.15 140.73L385.95 138.31Z" fill="#34a334"/>
<path d="M405.09 130.93L407.29 133.35L405.09 135.77L402.89 133.35Z" fill="#34a334"/>
<path d="M422.03 125.98L424.23 128.40L422.03 130.82L419.83 128.40Z" fill="#34a334"/>
<path d="M438.97 118.54L441.17 120.96L438.97 123.38L436.77 120.96Z" fill="#34a334"/>
<path d="M455.91 113.58L458.11 116.00L455.91 118.42L453.71 116.00Z" fill="#34a334"/>
<path d="M472.85 106.15L475.05 108.57L472.85 110.99L470.65 108.57Z" fill="#34a334"/>
<path d="M489.78 96.23L491.98 98.65L489.78 101.07L487.58 98.65Z" fill="#34a334"/>
<path d="M506.72 83.84L508.92 86.26L506.72 88.68L504.52 86.26Z" fill="#34a334"/>
<path d="M523.66 66.49L525.86 68.91L523.66 71.33L521.46 68.91Z" fill="#34a334"/>
<path d="M334.92 148.22L339.10 145.80L339.10 150.64Z" fill="#f7861e"/>
<path d="M351.86 145.74L356.04 143.32L356.04 148.16Z" fill="#f7861e"/>
<path d="M368.80 143.27L372.98 140.85L372.98 145.69Z" fill="#f7861e"/>
<path d="M385.73 140.79L389.91 138.37L389.91 143.21Z" fill="#f7861e"/>
<path d="M402.67 135.83L406.85 133.41L406.85 138.25Z" fill="#f7861e"/>
<path d="M419.61 130.87L423.79 128.45L423.79 133.29Z" fill="#f7861e"/>
<path d="M436.55 123.44L440.73 121.02L440.73 125.86Z" fill="#f7861e"/>
<path d="M453.49 116.00L457.67 113.58L457.67 118.42Z" fill="#f7861e"/>
<path d="M470.43 106.09L474.61 103.67L474.61 108.51Z" fill="#f7861e"/>
<path d="M487.36 93.70L491.54 91.28L491.54 96.12Z" fill="#f7861e"/>
<path d="M504.30 81.30L508.48 78.88L508.48 83.72Z" fill="#f7861e"/>
<path d="M521.24 56.52L525.42 54.10L525.42 58.94Z" fill="#f7861e"/>
<path d="M339.76 140.79L335.58 138.37L335.58 143.21Z" fill="#8224f0"/>
<path d="M356.70 140.79L352.52 138.37L352.52 143.21Z" fill="#8224f0"/>
<path d="M373.64 140.79L369.46 138.37L369.46 143.21Z" fill="#8224f0"/>
<path d="M390.57 140.79L386.39 138.37L386.39 143.21Z" fill="#8224f0"/>
<path d="M407.51 143.27L403.33 140.85L403.33 145.69Z" fill="#8224f0"/>
<path d="M424.45 143.27L420.27 140.85L420.27 145.69Z" fill="#8224f0"/>
<path d="M441.39 145.74L437.21 143.32L437.21 148.16Z" fill="#8224f0"/>
<path d="M458.33 145.74L454.15 143.32L454.15 148.16Z" fill="#8224f0"/>
<path d="M475.27 148.22L471.09 145.80L471.09 150.64Z" fill="#8224f0"/>
<path d="M492.20 148.22L488.02 145.80L488.02 150.64Z" fill="#8224f0"/>
<path d="M509.14 150.70L504.96 148.28L504.96 153.12Z" fill="#8224f0"/>
<path d="M526.08 153.18L521.90 150.76L521.90 155.60Z" fill="#8224f0"/>
<circle cx="337.34" cy="158.14" r="2.09" fill="#8a108a"/>
<circle cx="354.28" cy="150.70" r="2.09" fill="#8a108a"/>
<circle cx="371.22" cy="143.27" r="2.09" fill="#8a108a"/>
<circle cx="388.15" cy="138.31" r="2.09" fill="#8a108a"/>
<circle cx="405.09" cy="133.35" r="2.09" fill="#8a108a"/>
<circle cx="422.03" cy="128.40" r="2.09" fill="#8a108a"/>
<circle cx="438.97" cy="120.96" r="2.09" fill="#8a108a"/>
<circle cx="455.91" cy="116.00" r="2.09" fill="#8a108a"/>
<circle cx="472.85" cy="106.09" r="2.09" fill="#8a108a"/>
<circle cx="489.78" cy="98.65" r="2.09" fill="#8a108a"/>
<circle cx="506.72" cy="86.26" r="2.09" fill="#8a108a"/>
<circle cx="523.66" cy="68.91" r="2.09" fill="#8a108a"/>
<path d="M337.34 145.69L337.99 147.33L339.74 147.44L338.38 148.56L338.83 150.27L337.34 149.32L335.85 150.27L336.29 148.56L334.93 147.44L336.69 147.33Z" fill="#9a1a22"/>
<path d="M354.28 148.17L354.92 149.81L356.68 149.92L355.32 151.04L355.76 152.75L354.28 151.80L352.79 152.75L353.23 151.04L351.87 149.92L353.63 149.81Z" fill="#9a1a22"/>
<path d="M371.22 150.65L371.86 152.29L373.62 152.40L372.26 153.52L372.70 155.23L371.22 154.28L369.73 155.23L370.17 153.52L368.81 152.40L370.57 152.29Z" fill="#9a1a22"/>
<path d="M388.15 148.17L388.80 149.81L390.56 149.92L389.20 151.04L389.64 152.75L388.15 151.80L386.67 152.75L387.11 151.04L385.75 149.92L387.51 149.81Z" fill="#9a1a22"/>
<path d="M405.09 148.17L405.74 149.81L407.50 149.92L406.14 151.04L406.58 152.75L405.09 151.80L403.61 152.75L404.05 151.04L402.69 149.92L404.45 149.81Z" fill="#9a1a22"/>
<path d="M422.03 148.17L422.68 149.81L424.44 149.92L423.08 151.04L423.52 152.75L422.03 151.80L420.54 152.75L420.98 151.04L419.62 149.92L421.38 149.81Z" fill="#9a1a22"/>
<path d="M438.97 150.65L439.62 152.29L441.38 152.40L440.02 153.52L440.46 155.23L438.97 154.28L437.48 155.23L437.92 153.52L436.56 152.40L438.32 152.29Z" fill="#9a1a22"/>
<path d="M455.91 148.17L456.55 149.81L458.31 149.92L456.95 151.04L457.39 152.75L455.91 151.80L454.42 152.75L454.86 151.04L453.50 149.92L455.26 149.81Z" fill="#9a1a22"/>
<path d="M472.85 148.17L473.49 149.81L475.25 149.92L473.89 151.04L474.33 152.75L472.85 151.80L471.36 152.75L471.80 151.04L470.44 149.92L472.20 149.81Z" fill="#9a1a22"/>
<path d="M489.78 145.69L490.43 147.33L492.19 147.44L490.83 148.56L491.27 150.27L489.78 149.32L488.30 150.27L488.74 148.56L487.38 147.44L489.14 147.33Z" fill="#9a1a22"/>
<path d="M506.72 145.69L507.37 147.33L509.13 147.44L507.77 148.56L508.21 150.27L506.72 149.32L505.24 150.27L505.68 148.56L504.32 147.44L506.08 147.33Z" fill="#9a1a22"/>
<path d="M523.66 145.69L524.31 147.33L526.07 147.44L524.71 148.56L525.15 150.27L523.66 149.32L522.17 150.27L522.62 148.56L521.26 147.44L523.01 147.33Z" fill="#9a1a22"/>
<circle cx="337.34" cy="148.22" r="2.09" fill="#a4a440"/>
<circle cx="354.28" cy="145.74" r="2.09" fill="#a4a440"/>
<circle cx="371.22" cy="143.27" r="2.09" fill="#a4a440"/>
<circle cx="388.15" cy="138.31" r="2.09" fill="#a4a440"/>
<circle cx="405.09" cy="135.83" r="2.09" fill="#a4a440"/>
<circle cx="422.03" cy="133.35" r="2.09" fill="#a4a440"/>
<circle cx="438.97" cy="128.40" r="2.09" fill="#a4a440"/>
<circle cx="455.91" cy="123.44" r="2.09" fill="#a4a440"/>
<circle cx="472.85" cy="120.96" r="2.09" fill="#a4a440"/>
<circle cx="489.78" cy="116.00" r="2.09" fill="#a4a440"/>
<circle cx="506.72" cy="116.00" r="2.09" fill="#a4a440"/>
<circle cx="523.66" cy="116.00" r="2.09" fill="#a4a440"/>
<circle cx="337.34" cy="158.14" r="2.20" fill="url(#sph)"/>
<circle cx="354.28" cy="155.66" r="2.20" fill="url(#sph)"/>
<circle cx="371.22" cy="150.70" r="2.20" fill="url(#sph)"/>
<circle cx="388.15" cy="143.27" r="2.20" fill="url(#sph)"/>
<circle cx="405.09" cy="138.31" r="2.20" fill="url(#sph)"/>
<circle cx="422.03" cy="133.35" r="2.20" fill="url(#sph)"/>
<circle cx="438.97" cy="125.92" r="2.20" fill="url(#sph)"/>
<circle cx="455.91" cy="116.00" r="2.20" fill="url(#sph)"/>
<circle cx="472.85" cy="106.09" r="2.20" fill="url(#sph)"/>
<circle cx="489.78" cy="93.70" r="2.20" fill="url(#sph)"/>
<circle cx="506.72" cy="78.83" r="2.20" fill="url(#sph)"/>
<circle cx="523.66" cy="51.56" r="2.20" fill="url(#sph)"/>












<rect x="320.40" y="24.30" width="220.20" height="161.10" fill="none" stroke="#2a2a2a" stroke-width="1.3"/>
<path d="M320.40 185.40v-2.8M328.87 185.40v-1.6M337.34 185.40v-2.8M345.81 185.40v-1.6M354.28 185.40v-2.8M362.75 185.40v-1.6M371.22 185.40v-2.8M379.68 185.40v-1.6M388.15 185.40v-2.8M396.62 185.40v-1.6M405.09 185.40v-2.8M413.56 185.40v-1.6M422.03 185.40v-2.8M430.50 185.40v-1.6M438.97 185.40v-2.8M447.44 185.40v-1.6M455.91 185.40v-2.8M464.38 185.40v-1.6M472.85 185.40v-2.8M481.32 185.40v-1.6M489.78 185.40v-2.8M498.25 185.40v-1.6M506.72 185.40v-2.8M515.19 185.40v-1.6M523.66 185.40v-2.8M532.13 185.40v-1.6M540.60 185.40v-2.8M320.40 173.01h2.8M540.60 173.01h-2.8M320.40 160.62h1.6M540.60 160.62h-1.6M320.40 148.22h2.8M540.60 148.22h-2.8M320.40 135.83h1.6M540.60 135.83h-1.6M320.40 123.44h2.8M540.60 123.44h-2.8M320.40 111.05h1.6M540.60 111.05h-1.6M320.40 98.65h2.8M540.60 98.65h-2.8M320.40 86.26h1.6M540.60 86.26h-1.6M320.40 73.87h2.8M540.60 73.87h-2.8M320.40 61.48h1.6M540.60 61.48h-1.6M320.40 49.08h2.8M540.60 49.08h-2.8M320.40 36.69h1.6M540.60 36.69h-1.6" stroke="#2a2a2a" stroke-width="0.9" fill="none"/>
<text x="320.40" y="195.20" text-anchor="middle" class="tl">-2</text>
<text x="337.34" y="195.20" text-anchor="middle" class="tl">0</text>
<text x="354.28" y="195.20" text-anchor="middle" class="tl">2</text>
<text x="371.22" y="195.20" text-anchor="middle" class="tl">4</text>
<text x="388.15" y="195.20" text-anchor="middle" class="tl">6</text>
<text x="405.09" y="195.20" text-anchor="middle" class="tl">8</text>
<text x="422.03" y="195.20" text-anchor="middle" class="tl">10</text>
<text x="438.97" y="195.20" text-anchor="middle" class="tl">12</text>
<text x="455.91" y="195.20" text-anchor="middle" class="tl">14</text>
<text x="472.85" y="195.20" text-anchor="middle" class="tl">16</text>
<text x="489.78" y="195.20" text-anchor="middle" class="tl">18</text>
<text x="506.72" y="195.20" text-anchor="middle" class="tl">20</text>
<text x="523.66" y="195.20" text-anchor="middle" class="tl">22</text>
<text x="540.60" y="195.20" text-anchor="middle" class="tl">24</text>
<text x="316.90" y="175.01" text-anchor="end" class="tl">2.4</text>
<text x="316.90" y="150.22" text-anchor="end" class="tl">2.5</text>
<text x="316.90" y="125.44" text-anchor="end" class="tl">2.6</text>
<text x="316.90" y="100.65" text-anchor="end" class="tl">2.7</text>
<text x="316.90" y="75.87" text-anchor="end" class="tl">2.8</text>
<text x="316.90" y="51.08" text-anchor="end" class="tl">2.9</text>
<text x="316.90" y="26.30" text-anchor="end" class="tl">3.0</text>
<text x="430.50" y="209.50" text-anchor="middle" class="xt">ε (%)</text>
<text transform="translate(295.50 110.70) rotate(-90)" text-anchor="middle" class="ax">Bond length (Å)</text>
<text x="280.8" y="13.8" class="pl">(c)</text>
<path d="M329.80 32.50L350.00 32.50" fill="none" stroke="#1ee6f0" stroke-width="0.9"/>
<rect x="337.74" y="30.34" width="4.32" height="4.32" fill="#1ee6f0"/>
<text x="352.20" y="36.00" class="lg">1</text>
<path d="M359.00 32.50L379.20 32.50" fill="none" stroke="#f01e1e" stroke-width="0.9"/>
<circle cx="369.10" cy="32.50" r="2.28" fill="#f01e1e"/>
<text x="381.40" y="36.00" class="lg">2</text>
<path d="M388.20 32.50L408.40 32.50" fill="none" stroke="#2430e8" stroke-width="0.9"/>
<path d="M398.30 29.86L400.94 34.42L395.66 34.42Z" fill="#2430e8"/>
<text x="410.60" y="36.00" class="lg">3</text>
<path d="M417.80 32.50L438.00 32.50" fill="none" stroke="#ff19ff" stroke-width="0.9"/>
<path d="M427.90 35.14L430.54 30.58L425.26 30.58Z" fill="#ff19ff"/>
<text x="440.20" y="36.00" class="lg">4</text>
<path d="M447.00 32.50L467.20 32.50" fill="none" stroke="#34a334" stroke-width="0.9"/>
<path d="M457.10 29.86L459.50 32.50L457.10 35.14L454.70 32.50Z" fill="#34a334"/>
<text x="469.40" y="36.00" class="lg">5</text>
<path d="M329.80 43.20L350.00 43.20" fill="none" stroke="#f7861e" stroke-width="0.9"/>
<path d="M337.26 43.20L341.82 40.56L341.82 45.84Z" fill="#f7861e"/>
<text x="352.20" y="46.70" class="lg">6</text>
<path d="M359.00 43.20L379.20 43.20" fill="none" stroke="#8224f0" stroke-width="0.9"/>
<path d="M371.74 43.20L367.18 40.56L367.18 45.84Z" fill="#8224f0"/>
<text x="381.40" y="46.70" class="lg">7</text>
<path d="M388.20 43.20L408.40 43.20" fill="none" stroke="#8a108a" stroke-width="0.9" stroke-dasharray="1.2 1.4"/>
<circle cx="398.30" cy="43.20" r="2.28" fill="#8a108a"/>
<text x="410.60" y="46.70" class="lg">8</text>
<path d="M417.80 43.20L438.00 43.20" fill="none" stroke="#9a1a22" stroke-width="0.9"/>
<path d="M427.90 40.44L428.61 42.23L430.52 42.35L429.04 43.57L429.52 45.43L427.90 44.40L426.28 45.43L426.76 43.57L425.28 42.35L427.19 42.23Z" fill="#9a1a22"/>
<text x="440.20" y="46.70" class="lg">9</text>
<path d="M447.00 43.20L467.20 43.20" fill="none" stroke="#a4a440" stroke-width="0.9"/>
<circle cx="457.10" cy="43.20" r="2.28" fill="#a4a440"/>
<text x="469.40" y="46.70" class="lg">10</text>
<path d="M329.80 53.90L350.00 53.90" fill="none" stroke="#1d5cb5" stroke-width="0.9" stroke-dasharray="1.2 1.4"/>
<circle cx="339.90" cy="53.90" r="2.40" fill="url(#sph)"/>
<text x="352.20" y="57.40" class="lg">11</text>
<path d="M364.00 53.90L384.20 53.90" fill="none" stroke="#3db3b3" stroke-width="0.9"/>
<path d="M374.10 52.46V55.34" stroke="#3db3b3" stroke-width="0.8"/>
<text x="386.40" y="57.40" class="lg">12</text>
<path d="M398.20 53.90L418.40 53.90" fill="none" stroke="#c9a06a" stroke-width="0.9" stroke-dasharray="1.2 1.4"/>
<path d="M406.50 52.10L410.10 55.70M410.10 52.10L406.50 55.70M406.50 52.10V55.70M410.10 52.10V55.70" stroke="#c9a06a" stroke-width="0.9" fill="none"/>
<text x="420.60" y="57.40" class="lg">13</text>
<path d="M433.00 53.90L453.20 53.90" fill="none" stroke="#4fe04f" stroke-width="0.9" stroke-dasharray="1.2 1.4"/>
<rect x="440.94" y="51.74" width="4.32" height="4.32" fill="#4fe04f"/>
<text x="455.40" y="57.40" class="lg">14</text>
<path d="M466.20 53.90L486.40 53.90" fill="none" stroke="#d070a8" stroke-width="0.9" stroke-dasharray="1.2 1.4"/>

<text x="488.60" y="57.40" class="lg">15</text>
<g transform="translate(331.3 63.7) scale(0.9965 0.9965)"><use href="#mol"/></g>
<path d="M56.74 313.37L79.38 316.69L102.02 316.69L124.66 320.00L147.30 323.32L169.94 323.32L192.58 326.64L215.22 329.96L237.86 329.96" fill="none" stroke="#ff8cff" stroke-width="0.9" stroke-dasharray="1.2 1.4"/>
<path d="M56.74 369.77L79.38 369.77L102.02 369.77L124.66 366.46L147.30 363.14L169.94 363.14L192.58 359.82L215.22 356.50L237.86 353.18" fill="none" stroke="#1ee6f0" stroke-width="0.9"/>
<path d="M56.74 333.28L79.38 329.96L102.02 329.96L124.66 329.96L147.30 333.28L169.94 336.59L192.58 336.59L215.22 339.91L237.86 363.14" fill="none" stroke="#f01e1e" stroke-width="0.9"/>
<path d="M56.74 349.87L79.38 353.18L102.02 353.18L124.66 353.18L147.30 349.87L169.94 349.87L192.58 346.55L215.22 343.23L237.86 339.91" fill="none" stroke="#2430e8" stroke-width="0.9"/>
<path d="M56.74 343.23L79.38 349.87L102.02 353.18L124.66 356.50L147.30 363.14L169.94 363.14L192.58 363.14L215.22 366.46L237.86 386.36" fill="none" stroke="#ff19ff" stroke-width="0.9"/>
<path d="M56.74 316.69L79.38 323.32L102.02 333.28L124.66 336.59L147.30 339.91L169.94 343.23L192.58 343.23L215.22 343.23L237.86 343.23" fill="none" stroke="#34a334" stroke-width="0.9" stroke-dasharray="1.2 1.4"/>
<path d="M56.74 373.09L79.38 376.41L102.02 379.73L124.66 376.41L147.30 376.41L169.94 373.09L192.58 366.46L215.22 363.14L237.86 356.50" fill="none" stroke="#f7861e" stroke-width="0.9"/>
<path d="M56.74 313.37L79.38 316.69L102.02 316.69L124.66 320.00L147.30 323.32L169.94 323.32L192.58 326.64L215.22 329.96L237.86 329.96" fill="none" stroke="#8224f0" stroke-width="0.9" stroke-dasharray="1.2 1.4"/>
<path d="M56.74 329.96L79.38 336.59L102.02 343.23L124.66 343.23L147.30 346.55L169.94 346.55L192.58 346.55L215.22 343.23L237.86 359.82" fill="none" stroke="#8a108a" stroke-width="0.9" stroke-dasharray="1.2 1.4"/>
<path d="M56.74 250.33L79.38 280.19L102.02 303.41L124.66 316.69L147.30 323.32L169.94 329.96L192.58 336.59L215.22 339.91L237.86 339.91" fill="none" stroke="#9a1a22" stroke-width="0.9"/>
<path d="M56.74 316.69L79.38 323.32L102.02 333.28L124.66 336.59L147.30 339.91L169.94 343.23L192.58 343.23L215.22 343.23L237.86 343.23" fill="none" stroke="#a4a440" stroke-width="0.9" stroke-dasharray="1.2 1.4"/>
<path d="M56.74 373.09L79.38 376.41L102.02 379.73L124.66 379.73L147.30 376.41L169.94 373.09L192.58 366.46L215.22 363.14L237.86 356.50" fill="none" stroke="#1d5cb5" stroke-width="0.9" stroke-dasharray="1.2 1.4"/>
<path d="M56.74 329.96L79.38 329.96L102.02 329.96L124.66 333.28L147.30 336.59L169.94 339.91L192.58 343.23L215.22 343.23L237.86 343.23" fill="none" stroke="#3db3b3" stroke-width="0.9"/>
<path d="M56.74 369.77L79.38 369.77L102.02 369.77L124.66 366.46L147.30 366.46L169.94 363.14L192.58 363.14L215.22 359.82L237.86 359.82" fill="none" stroke="#c9a06a" stroke-width="0.9" stroke-dasharray="1.2 1.4"/>
<path d="M56.74 313.37L79.38 316.69L102.02 316.69L124.66 320.00L147.30 323.32L169.94 323.32L192.58 326.64L215.22 329.96L237.86 329.96" fill="none" stroke="#c040c8" stroke-width="0.9" stroke-dasharray="1.2 1.4"/>
<rect x="55.16" y="311.78" width="3.17" height="3.17" fill="#ff8cff"/>
<rect x="77.80" y="315.10" width="3.17" height="3.17" fill="#ff8cff"/>
<rect x="100.44" y="315.10" width="3.17" height="3.17" fill="#ff8cff"/>
<rect x="123.08" y="318.42" width="3.17" height="3.17" fill="#ff8cff"/>
<rect x="145.72" y="321.74" width="3.17" height="3.17" fill="#ff8cff"/>
<rect x="168.36" y="321.74" width="3.17" height="3.17" fill="#ff8cff"/>
<rect x="191.00" y="325.06" width="3.17" height="3.17" fill="#ff8cff"/>
<rect x="213.64" y="328.37" width="3.17" height="3.17" fill="#ff8cff"/>
<rect x="236.28" y="328.37" width="3.17" height="3.17" fill="#ff8cff"/>
<rect x="54.76" y="367.79" width="3.96" height="3.96" fill="#1ee6f0"/>
<rect x="77.40" y="367.79" width="3.96" height="3.96" fill="#1ee6f0"/>
<rect x="100.04" y="367.79" width="3.96" height="3.96" fill="#1ee6f0"/>
<rect x="122.68" y="364.48" width="3.96" height="3.96" fill="#1ee6f0"/>
<rect x="145.32" y="361.16" width="3.96" height="3.96" fill="#1ee6f0"/>
<rect x="167.96" y="361.16" width="3.96" height="3.96" fill="#1ee6f0"/>
<rect x="190.60" y="357.84" width="3.96" height="3.96" fill="#1ee6f0"/>
<rect x="213.24" y="354.52" width="3.96" height="3.96" fill="#1ee6f0"/>
<rect x="235.88" y="351.20" width="3.96" height="3.96" fill="#1ee6f0"/>
<circle cx="56.74" cy="333.28" r="2.09" fill="#f01e1e"/>
<circle cx="79.38" cy="329.96" r="2.09" fill="#f01e1e"/>
<circle cx="102.02" cy="329.96" r="2.09" fill="#f01e1e"/>
<circle cx="124.66" cy="329.96" r="2.09" fill="#f01e1e"/>
<circle cx="147.30" cy="333.28" r="2.09" fill="#f01e1e"/>
<circle cx="169.94" cy="336.59" r="2.09" fill="#f01e1e"/>
<circle cx="192.58" cy="336.59" r="2.09" fill="#f01e1e"/>
<circle cx="215.22" cy="339.91" r="2.09" fill="#f01e1e"/>
<circle cx="237.86" cy="363.14" r="2.09" fill="#f01e1e"/>
<path d="M56.74 347.45L59.16 351.63L54.32 351.63Z" fill="#2430e8"/>
<path d="M79.38 350.76L81.80 354.94L76.96 354.94Z" fill="#2430e8"/>
<path d="M102.02 350.76L104.44 354.94L99.60 354.94Z" fill="#2430e8"/>
<path d="M124.66 350.76L127.08 354.94L122.24 354.94Z" fill="#2430e8"/>
<path d="M147.30 347.45L149.72 351.63L144.88 351.63Z" fill="#2430e8"/>
<path d="M169.94 347.45L172.36 351.63L167.52 351.63Z" fill="#2430e8"/>
<path d="M192.58 344.13L195.00 348.31L190.16 348.31Z" fill="#2430e8"/>
<path d="M215.22 340.81L217.64 344.99L212.80 344.99Z" fill="#2430e8"/>
<path d="M237.86 337.49L240.28 341.67L235.44 341.67Z" fill="#2430e8"/>
<path d="M56.74 345.65L59.16 341.47L54.32 341.47Z" fill="#ff19ff"/>
<path d="M79.38 352.29L81.80 348.11L76.96 348.11Z" fill="#ff19ff"/>
<path d="M102.02 355.60L104.44 351.42L99.60 351.42Z" fill="#ff19ff"/>
<path d="M124.66 358.92L127.08 354.74L122.24 354.74Z" fill="#ff19ff"/>
<path d="M147.30 365.56L149.72 361.38L144.88 361.38Z" fill="#ff19ff"/>
<path d="M169.94 365.56L172.36 361.38L167.52 361.38Z" fill="#ff19ff"/>
<path d="M192.58 365.56L195.00 361.38L190.16 361.38Z" fill="#ff19ff"/>
<path d="M215.22 368.88L217.64 364.70L212.80 364.70Z" fill="#ff19ff"/>
<path d="M237.86 388.78L240.28 384.60L235.44 384.60Z" fill="#ff19ff"/>
<path d="M56.74 314.27L58.94 316.69L56.74 319.11L54.54 316.69Z" fill="#34a334"/>
<path d="M79.38 320.90L81.58 323.32L79.38 325.74L77.18 323.32Z" fill="#34a334"/>
<path d="M102.02 330.86L104.22 333.28L102.02 335.70L99.82 333.28Z" fill="#34a334"/>
<path d="M124.66 334.17L126.86 336.59L124.66 339.01L122.46 336.59Z" fill="#34a334"/>
<path d="M147.30 337.49L149.50 339.91L147.30 342.33L145.10 339.91Z" fill="#34a334"/>
<path d="M169.94 340.81L172.14 343.23L169.94 345.65L167.74 343.23Z" fill="#34a334"/>
<path d="M192.58 340.81L194.78 343.23L192.58 345.65L190.38 343.23Z" fill="#34a334"/>
<path d="M215.22 340.81L217.42 343.23L215.22 345.65L213.02 343.23Z" fill="#34a334"/>
<path d="M237.86 340.81L240.06 343.23L237.86 345.65L235.66 343.23Z" fill="#34a334"/>
<path d="M54.32 373.09L58.50 370.67L58.50 375.51Z" fill="#f7861e"/>
<path d="M76.96 376.41L81.14 373.99L81.14 378.83Z" fill="#f7861e"/>
<path d="M99.60 379.73L103.78 377.31L103.78 382.15Z" fill="#f7861e"/>
<path d="M122.24 376.41L126.42 373.99L126.42 378.83Z" fill="#f7861e"/>
<path d="M144.88 376.41L149.06 373.99L149.06 378.83Z" fill="#f7861e"/>
<path d="M167.52 373.09L171.70 370.67L171.70 375.51Z" fill="#f7861e"/>
<path d="M190.16 366.46L194.34 364.04L194.34 368.88Z" fill="#f7861e"/>
<path d="M212.80 363.14L216.98 360.72L216.98 365.56Z" fill="#f7861e"/>
<path d="M235.44 356.50L239.62 354.08L239.62 358.92Z" fill="#f7861e"/>
<path d="M59.16 313.37L54.98 310.95L54.98 315.79Z" fill="#8224f0"/>
<path d="M81.80 316.69L77.62 314.27L77.62 319.11Z" fill="#8224f0"/>
<path d="M104.44 316.69L100.26 314.27L100.26 319.11Z" fill="#8224f0"/>
<path d="M127.08 320.00L122.90 317.58L122.90 322.42Z" fill="#8224f0"/>
<path d="M149.72 323.32L145.54 320.90L145.54 325.74Z" fill="#8224f0"/>
<path d="M172.36 323.32L168.18 320.90L168.18 325.74Z" fill="#8224f0"/>
<path d="M195.00 326.64L190.82 324.22L190.82 329.06Z" fill="#8224f0"/>
<path d="M217.64 329.96L213.46 327.54L213.46 332.38Z" fill="#8224f0"/>
<path d="M240.28 329.96L236.10 327.54L236.10 332.38Z" fill="#8224f0"/>
<circle cx="56.74" cy="329.96" r="2.09" fill="#8a108a"/>
<circle cx="79.38" cy="336.59" r="2.09" fill="#8a108a"/>
<circle cx="102.02" cy="343.23" r="2.09" fill="#8a108a"/>
<circle cx="124.66" cy="343.23" r="2.09" fill="#8a108a"/>
<circle cx="147.30" cy="346.55" r="2.09" fill="#8a108a"/>
<circle cx="169.94" cy="346.55" r="2.09" fill="#8a108a"/>
<circle cx="192.58" cy="346.55" r="2.09" fill="#8a108a"/>
<circle cx="215.22" cy="343.23" r="2.09" fill="#8a108a"/>
<circle cx="237.86" cy="359.82" r="2.09" fill="#8a108a"/>
<path d="M56.74 247.80L57.39 249.44L59.15 249.54L57.79 250.67L58.23 252.37L56.74 251.43L55.25 252.37L55.69 250.67L54.33 249.54L56.09 249.44Z" fill="#9a1a22"/>
<path d="M79.38 277.66L80.03 279.30L81.79 279.41L80.43 280.53L80.87 282.23L79.38 281.29L77.89 282.23L78.33 280.53L76.97 279.41L78.73 279.30Z" fill="#9a1a22"/>
<path d="M102.02 300.88L102.67 302.52L104.43 302.63L103.07 303.75L103.51 305.46L102.02 304.51L100.53 305.46L100.97 303.75L99.61 302.63L101.37 302.52Z" fill="#9a1a22"/>
<path d="M124.66 314.16L125.31 315.80L127.07 315.90L125.71 317.03L126.15 318.73L124.66 317.79L123.17 318.73L123.61 317.03L122.25 315.90L124.01 315.80Z" fill="#9a1a22"/>
<path d="M147.30 320.79L147.95 322.43L149.71 322.54L148.35 323.66L148.79 325.37L147.30 324.42L145.81 325.37L146.25 323.66L144.89 322.54L146.65 322.43Z" fill="#9a1a22"/>
<path d="M169.94 327.43L170.59 329.07L172.35 329.18L170.99 330.30L171.43 332.00L169.94 331.06L168.45 332.00L168.89 330.30L167.53 329.18L169.29 329.07Z" fill="#9a1a22"/>
<path d="M192.58 334.06L193.23 335.70L194.99 335.81L193.63 336.93L194.07 338.64L192.58 337.69L191.09 338.64L191.53 336.93L190.17 335.81L191.93 335.70Z" fill="#9a1a22"/>
<path d="M215.22 337.38L215.87 339.02L217.63 339.13L216.27 340.25L216.71 341.96L215.22 341.01L213.73 341.96L214.17 340.25L212.81 339.13L214.57 339.02Z" fill="#9a1a22"/>
<path d="M237.86 337.38L238.51 339.02L240.27 339.13L238.91 340.25L239.35 341.96L237.86 341.01L236.37 341.96L236.81 340.25L235.45 339.13L237.21 339.02Z" fill="#9a1a22"/>
<circle cx="56.74" cy="316.69" r="2.09" fill="#a4a440"/>
<circle cx="79.38" cy="323.32" r="2.09" fill="#a4a440"/>
<circle cx="102.02" cy="333.28" r="2.09" fill="#a4a440"/>
<circle cx="124.66" cy="336.59" r="2.09" fill="#a4a440"/>
<circle cx="147.30" cy="339.91" r="2.09" fill="#a4a440"/>
<circle cx="169.94" cy="343.23" r="2.09" fill="#a4a440"/>
<circle cx="192.58" cy="343.23" r="2.09" fill="#a4a440"/>
<circle cx="215.22" cy="343.23" r="2.09" fill="#a4a440"/>
<circle cx="237.86" cy="343.23" r="2.09" fill="#a4a440"/>
<circle cx="56.74" cy="373.09" r="2.20" fill="url(#sph)"/>
<circle cx="79.38" cy="376.41" r="2.20" fill="url(#sph)"/>
<circle cx="102.02" cy="379.73" r="2.20" fill="url(#sph)"/>
<circle cx="124.66" cy="379.73" r="2.20" fill="url(#sph)"/>
<circle cx="147.30" cy="376.41" r="2.20" fill="url(#sph)"/>
<circle cx="169.94" cy="373.09" r="2.20" fill="url(#sph)"/>
<circle cx="192.58" cy="366.46" r="2.20" fill="url(#sph)"/>
<circle cx="215.22" cy="363.14" r="2.20" fill="url(#sph)"/>
<circle cx="237.86" cy="356.50" r="2.20" fill="url(#sph)"/>
<path d="M56.74 328.64V331.28" stroke="#3db3b3" stroke-width="0.8"/>
<path d="M79.38 328.64V331.28" stroke="#3db3b3" stroke-width="0.8"/>
<path d="M102.02 328.64V331.28" stroke="#3db3b3" stroke-width="0.8"/>
<path d="M124.66 331.96V334.60" stroke="#3db3b3" stroke-width="0.8"/>
<path d="M147.30 335.27V337.91" stroke="#3db3b3" stroke-width="0.8"/>
<path d="M169.94 338.59V341.23" stroke="#3db3b3" stroke-width="0.8"/>
<path d="M192.58 341.91V344.55" stroke="#3db3b3" stroke-width="0.8"/>
<path d="M215.22 341.91V344.55" stroke="#3db3b3" stroke-width="0.8"/>
<path d="M237.86 341.91V344.55" stroke="#3db3b3" stroke-width="0.8"/>
<path d="M55.09 368.12L58.39 371.42M58.39 368.12L55.09 371.42M55.09 368.12V371.42M58.39 368.12V371.42" stroke="#c9a06a" stroke-width="0.9" fill="none"/>
<path d="M77.73 368.12L81.03 371.42M81.03 368.12L77.73 371.42M77.73 368.12V371.42M81.03 368.12V371.42" stroke="#c9a06a" stroke-width="0.9" fill="none"/>
<path d="M100.37 368.12L103.67 371.42M103.67 368.12L100.37 371.42M100.37 368.12V371.42M103.67 368.12V371.42" stroke="#c9a06a" stroke-width="0.9" fill="none"/>
<path d="M123.01 364.81L126.31 368.11M126.31 364.81L123.01 368.11M123.01 364.81V368.11M126.31 364.81V368.11" stroke="#c9a06a" stroke-width="0.9" fill="none"/>
<path d="M145.65 364.81L148.95 368.11M148.95 364.81L145.65 368.11M145.65 364.81V368.11M148.95 364.81V368.11" stroke="#c9a06a" stroke-width="0.9" fill="none"/>
<path d="M168.29 361.49L171.59 364.79M171.59 361.49L168.29 364.79M168.29 361.49V364.79M171.59 361.49V364.79" stroke="#c9a06a" stroke-width="0.9" fill="none"/>
<path d="M190.93 361.49L194.23 364.79M194.23 361.49L190.93 364.79M190.93 361.49V364.79M194.23 361.49V364.79" stroke="#c9a06a" stroke-width="0.9" fill="none"/>
<path d="M213.57 358.17L216.87 361.47M216.87 358.17L213.57 361.47M213.57 358.17V361.47M216.87 358.17V361.47" stroke="#c9a06a" stroke-width="0.9" fill="none"/>
<path d="M236.21 358.17L239.51 361.47M239.51 358.17L236.21 361.47M236.21 358.17V361.47M239.51 358.17V361.47" stroke="#c9a06a" stroke-width="0.9" fill="none"/>









<rect x="34.10" y="227.10" width="226.40" height="165.90" fill="none" stroke="#707070" stroke-width="1.3"/>
<path d="M34.10 393.00v-2.8M45.42 393.00v-1.6M56.74 393.00v-2.8M68.06 393.00v-1.6M79.38 393.00v-2.8M90.70 393.00v-1.6M102.02 393.00v-2.8M113.34 393.00v-1.6M124.66 393.00v-2.8M135.98 393.00v-1.6M147.30 393.00v-2.8M158.62 393.00v-1.6M169.94 393.00v-2.8M181.26 393.00v-1.6M192.58 393.00v-2.8M203.90 393.00v-1.6M215.22 393.00v-2.8M226.54 393.00v-1.6M237.86 393.00v-2.8M249.18 393.00v-1.6M260.50 393.00v-2.8M34.10 376.41h2.8M260.50 376.41h-2.8M34.10 359.82h1.6M260.50 359.82h-1.6M34.10 343.23h2.8M260.50 343.23h-2.8M34.10 326.64h1.6M260.50 326.64h-1.6M34.10 310.05h2.8M260.50 310.05h-2.8M34.10 293.46h1.6M260.50 293.46h-1.6M34.10 276.87h2.8M260.50 276.87h-2.8M34.10 260.28h1.6M260.50 260.28h-1.6M34.10 243.69h2.8M260.50 243.69h-2.8" stroke="#707070" stroke-width="0.9" fill="none"/>
<text x="34.10" y="402.00" text-anchor="middle" class="tl2">-18</text>
<text x="56.74" y="402.00" text-anchor="middle" class="tl2">-16</text>
<text x="79.38" y="402.00" text-anchor="middle" class="tl2">-14</text>
<text x="102.02" y="402.00" text-anchor="middle" class="tl2">-12</text>
<text x="124.66" y="402.00" text-anchor="middle" class="tl2">-10</text>
<text x="147.30" y="402.00" text-anchor="middle" class="tl2">-8</text>
<text x="169.94" y="402.00" text-anchor="middle" class="tl2">-6</text>
<text x="192.58" y="402.00" text-anchor="middle" class="tl2">-4</text>
<text x="215.22" y="402.00" text-anchor="middle" class="tl2">-2</text>
<text x="237.86" y="402.00" text-anchor="middle" class="tl2">0</text>
<text x="260.50" y="402.00" text-anchor="middle" class="tl2">2</text>
<text x="30.60" y="378.41" text-anchor="end" class="tl2">2.4</text>
<text x="30.60" y="345.23" text-anchor="end" class="tl2">2.5</text>
<text x="30.60" y="312.05" text-anchor="end" class="tl2">2.6</text>
<text x="30.60" y="278.87" text-anchor="end" class="tl2">2.7</text>
<text x="30.60" y="245.69" text-anchor="end" class="tl2">2.8</text>
<text x="147.30" y="417.50" text-anchor="middle" class="xt">ε (%)</text>
<text transform="translate(13.00 316.50) rotate(-90)" text-anchor="middle" class="ax2">Bond length (Å)</text>
<text x="10.4" y="215.5" class="pl">(b)</text>
<path d="M77.30 236.00L97.30 236.00" fill="none" stroke="#1ee6f0" stroke-width="0.9"/>
<rect x="85.14" y="233.84" width="4.32" height="4.32" fill="#1ee6f0"/>
<text x="99.50" y="239.60" class="lg">1</text>
<path d="M107.90 236.00L127.90 236.00" fill="none" stroke="#f01e1e" stroke-width="0.9"/>
<circle cx="117.90" cy="236.00" r="2.28" fill="#f01e1e"/>
<text x="130.10" y="239.60" class="lg">2</text>
<path d="M137.30 236.00L157.30 236.00" fill="none" stroke="#2430e8" stroke-width="0.9"/>
<path d="M147.30 233.36L149.94 237.92L144.66 237.92Z" fill="#2430e8"/>
<text x="159.50" y="239.60" class="lg">3</text>
<path d="M168.30 236.00L188.30 236.00" fill="none" stroke="#ff19ff" stroke-width="0.9"/>
<path d="M178.30 238.64L180.94 234.08L175.66 234.08Z" fill="#ff19ff"/>
<text x="190.50" y="239.60" class="lg">4</text>
<path d="M197.70 236.00L217.70 236.00" fill="none" stroke="#34a334" stroke-width="0.9"/>
<path d="M207.70 233.36L210.10 236.00L207.70 238.64L205.30 236.00Z" fill="#34a334"/>
<text x="219.90" y="239.60" class="lg">5</text>
<path d="M77.30 247.00L97.30 247.00" fill="none" stroke="#f7861e" stroke-width="0.9"/>
<path d="M84.66 247.00L89.22 244.36L89.22 249.64Z" fill="#f7861e"/>
<text x="99.50" y="250.60" class="lg">6</text>
<path d="M107.90 247.00L127.90 247.00" fill="none" stroke="#8224f0" stroke-width="0.9"/>
<path d="M120.54 247.00L115.98 244.36L115.98 249.64Z" fill="#8224f0"/>
<text x="130.10" y="250.60" class="lg">7</text>
<path d="M137.30 247.00L157.30 247.00" fill="none" stroke="#8a108a" stroke-width="0.9" stroke-dasharray="1.2 1.4"/>
<circle cx="147.30" cy="247.00" r="2.28" fill="#8a108a"/>
<text x="159.50" y="250.60" class="lg">8</text>
<path d="M168.30 247.00L188.30 247.00" fill="none" stroke="#9a1a22" stroke-width="0.9"/>
<path d="M178.30 244.24L179.01 246.03L180.92 246.15L179.44 247.37L179.92 249.23L178.30 248.20L176.68 249.23L177.16 247.37L175.68 246.15L177.59 246.03Z" fill="#9a1a22"/>
<text x="190.50" y="250.60" class="lg">9</text>
<path d="M197.70 247.00L217.70 247.00" fill="none" stroke="#a4a440" stroke-width="0.9"/>
<circle cx="207.70" cy="247.00" r="2.28" fill="#a4a440"/>
<text x="219.90" y="250.60" class="lg">10</text>
<path d="M77.30 258.40L97.30 258.40" fill="none" stroke="#1d5cb5" stroke-width="0.9" stroke-dasharray="1.2 1.4"/>
<circle cx="87.30" cy="258.40" r="2.40" fill="url(#sph)"/>
<text x="99.50" y="262.00" class="lg">11</text>
<path d="M112.70 258.40L132.70 258.40" fill="none" stroke="#3db3b3" stroke-width="0.9"/>
<path d="M122.70 256.96V259.84" stroke="#3db3b3" stroke-width="0.8"/>
<text x="134.90" y="262.00" class="lg">12</text>
<path d="M147.30 258.40L167.30 258.40" fill="none" stroke="#c9a06a" stroke-width="0.9" stroke-dasharray="1.2 1.4"/>
<path d="M155.50 256.60L159.10 260.20M159.10 256.60L155.50 260.20M155.50 256.60V260.20M159.10 256.60V260.20" stroke="#c9a06a" stroke-width="0.9" fill="none"/>
<text x="169.50" y="262.00" class="lg">13</text>
<path d="M183.30 258.40L203.30 258.40" fill="none" stroke="#ff8cff" stroke-width="0.9" stroke-dasharray="1.2 1.4"/>
<rect x="191.14" y="256.24" width="4.32" height="4.32" fill="#ff8cff"/>
<text x="205.50" y="262.00" class="lg">14</text>
<path d="M218.30 258.40L238.30 258.40" fill="none" stroke="#c040c8" stroke-width="0.9" stroke-dasharray="1.2 1.4"/>

<text x="240.50" y="262.00" class="lg">15</text>
<g transform="translate(161.4 268.1) scale(0.9941 0.8860)"><use href="#mol"/></g>
<path d="M341.13 313.37L363.76 316.69L386.39 316.69L409.02 320.02L431.65 323.34L454.28 323.34L476.91 326.66L499.54 329.98L522.17 329.98" fill="none" stroke="#ff8cff" stroke-width="0.9" stroke-dasharray="1.2 1.4"/>
<path d="M341.13 369.85L363.76 369.85L386.39 369.85L409.02 366.52L431.65 363.20L454.28 363.20L476.91 359.88L499.54 356.56L522.17 353.24" fill="none" stroke="#1ee6f0" stroke-width="0.9"/>
<path d="M341.13 333.30L363.76 329.98L386.39 329.98L409.02 329.98L431.65 333.30L454.28 336.63L476.91 336.63L499.54 339.95L522.17 363.20" fill="none" stroke="#f01e1e" stroke-width="0.9"/>
<path d="M341.13 349.91L363.76 353.24L386.39 353.24L409.02 353.24L431.65 349.91L454.28 349.91L476.91 346.59L499.54 343.27L522.17 339.95" fill="none" stroke="#2430e8" stroke-width="0.9"/>
<path d="M341.13 343.27L363.76 349.91L386.39 353.24L409.02 356.56L431.65 363.20L454.28 363.20L476.91 363.20L499.54 366.52L522.17 386.46" fill="none" stroke="#ff19ff" stroke-width="0.9"/>
<path d="M341.13 316.69L363.76 323.34L386.39 333.30L409.02 336.63L431.65 339.95L454.28 343.27L476.91 343.27L499.54 343.27L522.17 343.27" fill="none" stroke="#34a334" stroke-width="0.9" stroke-dasharray="1.2 1.4"/>
<path d="M341.13 373.17L363.76 376.49L386.39 379.81L409.02 376.49L431.65 376.49L454.28 373.17L476.91 366.52L499.54 363.20L522.17 356.56" fill="none" stroke="#f7861e" stroke-width="0.9"/>
<path d="M341.13 313.37L363.76 316.69L386.39 316.69L409.02 320.02L431.65 323.34L454.28 323.34L476.91 326.66L499.54 329.98L522.17 329.98" fill="none" stroke="#8224f0" stroke-width="0.9" stroke-dasharray="1.2 1.4"/>
<path d="M341.13 329.98L363.76 336.63L386.39 343.27L409.02 343.27L431.65 346.59L454.28 346.59L476.91 346.59L499.54 343.27L522.17 359.88" fill="none" stroke="#8a108a" stroke-width="0.9" stroke-dasharray="1.2 1.4"/>
<path d="M341.13 250.25L363.76 280.15L386.39 303.41L409.02 316.69L431.65 323.34L454.28 329.98L476.91 336.63L499.54 339.95L522.17 339.95" fill="none" stroke="#9a1a22" stroke-width="0.9"/>
<path d="M341.13 316.69L363.76 323.34L386.39 333.30L409.02 336.63L431.65 339.95L454.28 343.27L476.91 343.27L499.54 343.27L522.17 343.27" fill="none" stroke="#a4a440" stroke-width="0.9" stroke-dasharray="1.2 1.4"/>
<path d="M341.13 373.17L363.76 376.49L386.39 379.81L409.02 379.81L431.65 376.49L454.28 373.17L476.91 366.52L499.54 363.20L522.17 356.56" fill="none" stroke="#1d5cb5" stroke-width="0.9" stroke-dasharray="1.2 1.4"/>
<path d="M341.13 329.98L363.76 329.98L386.39 329.98L409.02 333.30L431.65 336.63L454.28 339.95L476.91 343.27L499.54 343.27L522.17 343.27" fill="none" stroke="#3db3b3" stroke-width="0.9"/>
<path d="M341.13 369.85L363.76 369.85L386.39 369.85L409.02 366.52L431.65 366.52L454.28 363.20L476.91 363.20L499.54 359.88L522.17 359.88" fill="none" stroke="#c9a06a" stroke-width="0.9" stroke-dasharray="1.2 1.4"/>
<path d="M341.13 313.37L363.76 316.69L386.39 316.69L409.02 320.02L431.65 323.34L454.28 323.34L476.91 326.66L499.54 329.98L522.17 329.98" fill="none" stroke="#c040c8" stroke-width="0.9" stroke-dasharray="1.2 1.4"/>
<rect x="339.55" y="311.79" width="3.17" height="3.17" fill="#ff8cff"/>
<rect x="362.18" y="315.11" width="3.17" height="3.17" fill="#ff8cff"/>
<rect x="384.81" y="315.11" width="3.17" height="3.17" fill="#ff8cff"/>
<rect x="407.44" y="318.43" width="3.17" height="3.17" fill="#ff8cff"/>
<rect x="430.07" y="321.75" width="3.17" height="3.17" fill="#ff8cff"/>
<rect x="452.70" y="321.75" width="3.17" height="3.17" fill="#ff8cff"/>
<rect x="475.33" y="325.08" width="3.17" height="3.17" fill="#ff8cff"/>
<rect x="497.96" y="328.40" width="3.17" height="3.17" fill="#ff8cff"/>
<rect x="520.59" y="328.40" width="3.17" height="3.17" fill="#ff8cff"/>
<rect x="339.15" y="367.87" width="3.96" height="3.96" fill="#1ee6f0"/>
<rect x="361.78" y="367.87" width="3.96" height="3.96" fill="#1ee6f0"/>
<rect x="384.41" y="367.87" width="3.96" height="3.96" fill="#1ee6f0"/>
<rect x="407.04" y="364.54" width="3.96" height="3.96" fill="#1ee6f0"/>
<rect x="429.67" y="361.22" width="3.96" height="3.96" fill="#1ee6f0"/>
<rect x="452.30" y="361.22" width="3.96" height="3.96" fill="#1ee6f0"/>
<rect x="474.93" y="357.90" width="3.96" height="3.96" fill="#1ee6f0"/>
<rect x="497.56" y="354.58" width="3.96" height="3.96" fill="#1ee6f0"/>
<rect x="520.19" y="351.26" width="3.96" height="3.96" fill="#1ee6f0"/>
<circle cx="341.13" cy="333.30" r="2.09" fill="#f01e1e"/>
<circle cx="363.76" cy="329.98" r="2.09" fill="#f01e1e"/>
<circle cx="386.39" cy="329.98" r="2.09" fill="#f01e1e"/>
<circle cx="409.02" cy="329.98" r="2.09" fill="#f01e1e"/>
<circle cx="431.65" cy="333.30" r="2.09" fill="#f01e1e"/>
<circle cx="454.28" cy="336.63" r="2.09" fill="#f01e1e"/>
<circle cx="476.91" cy="336.63" r="2.09" fill="#f01e1e"/>
<circle cx="499.54" cy="339.95" r="2.09" fill="#f01e1e"/>
<circle cx="522.17" cy="363.20" r="2.09" fill="#f01e1e"/>
<path d="M341.13 347.49L343.55 351.67L338.71 351.67Z" fill="#2430e8"/>
<path d="M363.76 350.82L366.18 355.00L361.34 355.00Z" fill="#2430e8"/>
<path d="M386.39 350.82L388.81 355.00L383.97 355.00Z" fill="#2430e8"/>
<path d="M409.02 350.82L411.44 355.00L406.60 355.00Z" fill="#2430e8"/>
<path d="M431.65 347.49L434.07 351.67L429.23 351.67Z" fill="#2430e8"/>
<path d="M454.28 347.49L456.70 351.67L451.86 351.67Z" fill="#2430e8"/>
<path d="M476.91 344.17L479.33 348.35L474.49 348.35Z" fill="#2430e8"/>
<path d="M499.54 340.85L501.96 345.03L497.12 345.03Z" fill="#2430e8"/>
<path d="M522.17 337.53L524.59 341.71L519.75 341.71Z" fill="#2430e8"/>
<path d="M341.13 345.69L343.55 341.51L338.71 341.51Z" fill="#ff19ff"/>
<path d="M363.76 352.33L366.18 348.15L361.34 348.15Z" fill="#ff19ff"/>
<path d="M386.39 355.66L388.81 351.48L383.97 351.48Z" fill="#ff19ff"/>
<path d="M409.02 358.98L411.44 354.80L406.60 354.80Z" fill="#ff19ff"/>
<path d="M431.65 365.62L434.07 361.44L429.23 361.44Z" fill="#ff19ff"/>
<path d="M454.28 365.62L456.70 361.44L451.86 361.44Z" fill="#ff19ff"/>
<path d="M476.91 365.62L479.33 361.44L474.49 361.44Z" fill="#ff19ff"/>
<path d="M499.54 368.94L501.96 364.76L497.12 364.76Z" fill="#ff19ff"/>
<path d="M522.17 388.88L524.59 384.70L519.75 384.70Z" fill="#ff19ff"/>
<path d="M341.13 314.27L343.33 316.69L341.13 319.11L338.93 316.69Z" fill="#34a334"/>
<path d="M363.76 320.92L365.96 323.34L363.76 325.76L361.56 323.34Z" fill="#34a334"/>
<path d="M386.39 330.88L388.59 333.30L386.39 335.72L384.19 333.30Z" fill="#34a334"/>
<path d="M409.02 334.21L411.22 336.63L409.02 339.05L406.82 336.63Z" fill="#34a334"/>
<path d="M431.65 337.53L433.85 339.95L431.65 342.37L429.45 339.95Z" fill="#34a334"/>
<path d="M454.28 340.85L456.48 343.27L454.28 345.69L452.08 343.27Z" fill="#34a334"/>
<path d="M476.91 340.85L479.11 343.27L476.91 345.69L474.71 343.27Z" fill="#34a334"/>
<path d="M499.54 340.85L501.74 343.27L499.54 345.69L497.34 343.27Z" fill="#34a334"/>
<path d="M522.17 340.85L524.37 343.27L522.17 345.69L519.97 343.27Z" fill="#34a334"/>
<path d="M338.71 373.17L342.89 370.75L342.89 375.59Z" fill="#f7861e"/>
<path d="M361.34 376.49L365.52 374.07L365.52 378.91Z" fill="#f7861e"/>
<path d="M383.97 379.81L388.15 377.39L388.15 382.23Z" fill="#f7861e"/>
<path d="M406.60 376.49L410.78 374.07L410.78 378.91Z" fill="#f7861e"/>
<path d="M429.23 376.49L433.41 374.07L433.41 378.91Z" fill="#f7861e"/>
<path d="M451.86 373.17L456.04 370.75L456.04 375.59Z" fill="#f7861e"/>
<path d="M474.49 366.52L478.67 364.10L478.67 368.94Z" fill="#f7861e"/>
<path d="M497.12 363.20L501.30 360.78L501.30 365.62Z" fill="#f7861e"/>
<path d="M519.75 356.56L523.93 354.14L523.93 358.98Z" fill="#f7861e"/>
<path d="M343.55 313.37L339.37 310.95L339.37 315.79Z" fill="#8224f0"/>
<path d="M366.18 316.69L362.00 314.27L362.00 319.11Z" fill="#8224f0"/>
<path d="M388.81 316.69L384.63 314.27L384.63 319.11Z" fill="#8224f0"/>
<path d="M411.44 320.02L407.26 317.60L407.26 322.44Z" fill="#8224f0"/>
<path d="M434.07 323.34L429.89 320.92L429.89 325.76Z" fill="#8224f0"/>
<path d="M456.70 323.34L452.52 320.92L452.52 325.76Z" fill="#8224f0"/>
<path d="M479.33 326.66L475.15 324.24L475.15 329.08Z" fill="#8224f0"/>
<path d="M501.96 329.98L497.78 327.56L497.78 332.40Z" fill="#8224f0"/>
<path d="M524.59 329.98L520.41 327.56L520.41 332.40Z" fill="#8224f0"/>
<circle cx="341.13" cy="329.98" r="2.09" fill="#8a108a"/>
<circle cx="363.76" cy="336.63" r="2.09" fill="#8a108a"/>
<circle cx="386.39" cy="343.27" r="2.09" fill="#8a108a"/>
<circle cx="409.02" cy="343.27" r="2.09" fill="#8a108a"/>
<circle cx="431.65" cy="346.59" r="2.09" fill="#8a108a"/>
<circle cx="454.28" cy="346.59" r="2.09" fill="#8a108a"/>
<circle cx="476.91" cy="346.59" r="2.09" fill="#8a108a"/>
<circle cx="499.54" cy="343.27" r="2.09" fill="#8a108a"/>
<circle cx="522.17" cy="359.88" r="2.09" fill="#8a108a"/>
<path d="M341.13 247.72L341.78 249.36L343.54 249.47L342.18 250.59L342.62 252.30L341.13 251.35L339.64 252.30L340.08 250.59L338.72 249.47L340.48 249.36Z" fill="#9a1a22"/>
<path d="M363.76 277.62L364.41 279.26L366.17 279.37L364.81 280.49L365.25 282.20L363.76 281.25L362.27 282.20L362.71 280.49L361.35 279.37L363.11 279.26Z" fill="#9a1a22"/>
<path d="M386.39 300.88L387.04 302.52L388.80 302.62L387.44 303.75L387.88 305.45L386.39 304.51L384.90 305.45L385.34 303.75L383.98 302.62L385.74 302.52Z" fill="#9a1a22"/>
<path d="M409.02 314.16L409.67 315.80L411.43 315.91L410.07 317.03L410.51 318.74L409.02 317.79L407.53 318.74L407.97 317.03L406.61 315.91L408.37 315.80Z" fill="#9a1a22"/>
<path d="M431.65 320.81L432.30 322.45L434.06 322.56L432.70 323.68L433.14 325.38L431.65 324.44L430.16 325.38L430.60 323.68L429.24 322.56L431.00 322.45Z" fill="#9a1a22"/>
<path d="M454.28 327.45L454.93 329.09L456.69 329.20L455.33 330.32L455.77 332.03L454.28 331.08L452.79 332.03L453.23 330.32L451.87 329.20L453.63 329.09Z" fill="#9a1a22"/>
<path d="M476.91 334.10L477.56 335.74L479.32 335.84L477.96 336.97L478.40 338.67L476.91 337.73L475.42 338.67L475.86 336.97L474.50 335.84L476.26 335.74Z" fill="#9a1a22"/>
<path d="M499.54 337.42L500.19 339.06L501.95 339.17L500.59 340.29L501.03 341.99L499.54 341.05L498.05 341.99L498.49 340.29L497.13 339.17L498.89 339.06Z" fill="#9a1a22"/>
<path d="M522.17 337.42L522.82 339.06L524.58 339.17L523.22 340.29L523.66 341.99L522.17 341.05L520.68 341.99L521.12 340.29L519.76 339.17L521.52 339.06Z" fill="#9a1a22"/>
<circle cx="341.13" cy="316.69" r="2.09" fill="#a4a440"/>
<circle cx="363.76" cy="323.34" r="2.09" fill="#a4a440"/>
<circle cx="386.39" cy="333.30" r="2.09" fill="#a4a440"/>
<circle cx="409.02" cy="336.63" r="2.09" fill="#a4a440"/>
<circle cx="431.65" cy="339.95" r="2.09" fill="#a4a440"/>
<circle cx="454.28" cy="343.27" r="2.09" fill="#a4a440"/>
<circle cx="476.91" cy="343.27" r="2.09" fill="#a4a440"/>
<circle cx="499.54" cy="343.27" r="2.09" fill="#a4a440"/>
<circle cx="522.17" cy="343.27" r="2.09" fill="#a4a440"/>
<circle cx="341.13" cy="373.17" r="2.20" fill="url(#sph)"/>
<circle cx="363.76" cy="376.49" r="2.20" fill="url(#sph)"/>
<circle cx="386.39" cy="379.81" r="2.20" fill="url(#sph)"/>
<circle cx="409.02" cy="379.81" r="2.20" fill="url(#sph)"/>
<circle cx="431.65" cy="376.49" r="2.20" fill="url(#sph)"/>
<circle cx="454.28" cy="373.17" r="2.20" fill="url(#sph)"/>
<circle cx="476.91" cy="366.52" r="2.20" fill="url(#sph)"/>
<circle cx="499.54" cy="363.20" r="2.20" fill="url(#sph)"/>
<circle cx="522.17" cy="356.56" r="2.20" fill="url(#sph)"/>
<path d="M341.13 328.66V331.30" stroke="#3db3b3" stroke-width="0.8"/>
<path d="M363.76 328.66V331.30" stroke="#3db3b3" stroke-width="0.8"/>
<path d="M386.39 328.66V331.30" stroke="#3db3b3" stroke-width="0.8"/>
<path d="M409.02 331.98V334.62" stroke="#3db3b3" stroke-width="0.8"/>
<path d="M431.65 335.31V337.95" stroke="#3db3b3" stroke-width="0.8"/>
<path d="M454.28 338.63V341.27" stroke="#3db3b3" stroke-width="0.8"/>
<path d="M476.91 341.95V344.59" stroke="#3db3b3" stroke-width="0.8"/>
<path d="M499.54 341.95V344.59" stroke="#3db3b3" stroke-width="0.8"/>
<path d="M522.17 341.95V344.59" stroke="#3db3b3" stroke-width="0.8"/>
<path d="M339.48 368.20L342.78 371.50M342.78 368.20L339.48 371.50M339.48 368.20V371.50M342.78 368.20V371.50" stroke="#c9a06a" stroke-width="0.9" fill="none"/>
<path d="M362.11 368.20L365.41 371.50M365.41 368.20L362.11 371.50M362.11 368.20V371.50M365.41 368.20V371.50" stroke="#c9a06a" stroke-width="0.9" fill="none"/>
<path d="M384.74 368.20L388.04 371.50M388.04 368.20L384.74 371.50M384.74 368.20V371.50M388.04 368.20V371.50" stroke="#c9a06a" stroke-width="0.9" fill="none"/>
<path d="M407.37 364.87L410.67 368.17M410.67 364.87L407.37 368.17M407.37 364.87V368.17M410.67 364.87V368.17" stroke="#c9a06a" stroke-width="0.9" fill="none"/>
<path d="M430.00 364.87L433.30 368.17M433.30 364.87L430.00 368.17M430.00 364.87V368.17M433.30 364.87V368.17" stroke="#c9a06a" stroke-width="0.9" fill="none"/>
<path d="M452.63 361.55L455.93 364.85M455.93 361.55L452.63 364.85M452.63 361.55V364.85M455.93 361.55V364.85" stroke="#c9a06a" stroke-width="0.9" fill="none"/>
<path d="M475.26 361.55L478.56 364.85M478.56 361.55L475.26 364.85M475.26 361.55V364.85M478.56 361.55V364.85" stroke="#c9a06a" stroke-width="0.9" fill="none"/>
<path d="M497.89 358.23L501.19 361.53M501.19 358.23L497.89 361.53M497.89 358.23V361.53M501.19 358.23V361.53" stroke="#c9a06a" stroke-width="0.9" fill="none"/>
<path d="M520.52 358.23L523.82 361.53M523.82 358.23L520.52 361.53M520.52 358.23V361.53M523.82 358.23V361.53" stroke="#c9a06a" stroke-width="0.9" fill="none"/>









<rect x="318.50" y="227.00" width="226.30" height="166.10" fill="none" stroke="#707070" stroke-width="1.3"/>
<path d="M318.50 393.10v-2.8M329.81 393.10v-1.6M341.13 393.10v-2.8M352.44 393.10v-1.6M363.76 393.10v-2.8M375.07 393.10v-1.6M386.39 393.10v-2.8M397.70 393.10v-1.6M409.02 393.10v-2.8M420.33 393.10v-1.6M431.65 393.10v-2.8M442.96 393.10v-1.6M454.28 393.10v-2.8M465.59 393.10v-1.6M476.91 393.10v-2.8M488.22 393.10v-1.6M499.54 393.10v-2.8M510.85 393.10v-1.6M522.17 393.10v-2.8M533.48 393.10v-1.6M544.80 393.10v-2.8M318.50 376.49h2.8M544.80 376.49h-2.8M318.50 359.88h1.6M544.80 359.88h-1.6M318.50 343.27h2.8M544.80 343.27h-2.8M318.50 326.66h1.6M544.80 326.66h-1.6M318.50 310.05h2.8M544.80 310.05h-2.8M318.50 293.44h1.6M544.80 293.44h-1.6M318.50 276.83h2.8M544.80 276.83h-2.8M318.50 260.22h1.6M544.80 260.22h-1.6M318.50 243.61h2.8M544.80 243.61h-2.8" stroke="#707070" stroke-width="0.9" fill="none"/>
<text x="318.50" y="402.10" text-anchor="middle" class="tl2">-18</text>
<text x="341.13" y="402.10" text-anchor="middle" class="tl2">-16</text>
<text x="363.76" y="402.10" text-anchor="middle" class="tl2">-14</text>
<text x="386.39" y="402.10" text-anchor="middle" class="tl2">-12</text>
<text x="409.02" y="402.10" text-anchor="middle" class="tl2">-10</text>
<text x="431.65" y="402.10" text-anchor="middle" class="tl2">-8</text>
<text x="454.28" y="402.10" text-anchor="middle" class="tl2">-6</text>
<text x="476.91" y="402.10" text-anchor="middle" class="tl2">-4</text>
<text x="499.54" y="402.10" text-anchor="middle" class="tl2">-2</text>
<text x="522.17" y="402.10" text-anchor="middle" class="tl2">0</text>
<text x="544.80" y="402.10" text-anchor="middle" class="tl2">2</text>
<text x="315.00" y="378.49" text-anchor="end" class="tl2">2.4</text>
<text x="315.00" y="345.27" text-anchor="end" class="tl2">2.5</text>
<text x="315.00" y="312.05" text-anchor="end" class="tl2">2.6</text>
<text x="315.00" y="278.83" text-anchor="end" class="tl2">2.7</text>
<text x="315.00" y="245.61" text-anchor="end" class="tl2">2.8</text>
<text x="431.65" y="417.50" text-anchor="middle" class="xt">ε (%)</text>
<text transform="translate(297.10 316.50) rotate(-90)" text-anchor="middle" class="ax2">Bond length (Å)</text>
<text x="280.4" y="215.5" class="pl">(d)</text>
<path d="M361.70 235.90L381.70 235.90" fill="none" stroke="#1ee6f0" stroke-width="0.9"/>
<rect x="369.54" y="233.74" width="4.32" height="4.32" fill="#1ee6f0"/>
<text x="383.90" y="239.50" class="lg">1</text>
<path d="M392.30 235.90L412.30 235.90" fill="none" stroke="#f01e1e" stroke-width="0.9"/>
<circle cx="402.30" cy="235.90" r="2.28" fill="#f01e1e"/>
<text x="414.50" y="239.50" class="lg">2</text>
<path d="M421.70 235.90L441.70 235.90" fill="none" stroke="#2430e8" stroke-width="0.9"/>
<path d="M431.70 233.26L434.34 237.82L429.06 237.82Z" fill="#2430e8"/>
<text x="443.90" y="239.50" class="lg">3</text>
<path d="M452.70 235.90L472.70 235.90" fill="none" stroke="#ff19ff" stroke-width="0.9"/>
<path d="M462.70 238.54L465.34 233.98L460.06 233.98Z" fill="#ff19ff"/>
<text x="474.90" y="239.50" class="lg">4</text>
<path d="M482.10 235.90L502.10 235.90" fill="none" stroke="#34a334" stroke-width="0.9"/>
<path d="M492.10 233.26L494.50 235.90L492.10 238.54L489.70 235.90Z" fill="#34a334"/>
<text x="504.30" y="239.50" class="lg">5</text>
<path d="M361.70 246.90L381.70 246.90" fill="none" stroke="#f7861e" stroke-width="0.9"/>
<path d="M369.06 246.90L373.62 244.26L373.62 249.54Z" fill="#f7861e"/>
<text x="383.90" y="250.50" class="lg">6</text>
<path d="M392.30 246.90L412.30 246.90" fill="none" stroke="#8224f0" stroke-width="0.9"/>
<path d="M404.94 246.90L400.38 244.26L400.38 249.54Z" fill="#8224f0"/>
<text x="414.50" y="250.50" class="lg">7</text>
<path d="M421.70 246.90L441.70 246.90" fill="none" stroke="#8a108a" stroke-width="0.9" stroke-dasharray="1.2 1.4"/>
<circle cx="431.70" cy="246.90" r="2.28" fill="#8a108a"/>
<text x="443.90" y="250.50" class="lg">8</text>
<path d="M452.70 246.90L472.70 246.90" fill="none" stroke="#9a1a22" stroke-width="0.9"/>
<path d="M462.70 244.14L463.41 245.93L465.32 246.05L463.84 247.27L464.32 249.13L462.70 248.10L461.08 249.13L461.56 247.27L460.08 246.05L461.99 245.93Z" fill="#9a1a22"/>
<text x="474.90" y="250.50" class="lg">9</text>
<path d="M482.10 246.90L502.10 246.90" fill="none" stroke="#a4a440" stroke-width="0.9"/>
<circle cx="492.10" cy="246.90" r="2.28" fill="#a4a440"/>
<text x="504.30" y="250.50" class="lg">10</text>
<path d="M361.70 258.30L381.70 258.30" fill="none" stroke="#1d5cb5" stroke-width="0.9" stroke-dasharray="1.2 1.4"/>
<circle cx="371.70" cy="258.30" r="2.40" fill="url(#sph)"/>
<text x="383.90" y="261.90" class="lg">11</text>
<path d="M397.10 258.30L417.10 258.30" fill="none" stroke="#3db3b3" stroke-width="0.9"/>
<path d="M407.10 256.86V259.74" stroke="#3db3b3" stroke-width="0.8"/>
<text x="419.30" y="261.90" class="lg">12</text>
<path d="M431.70 258.30L451.70 258.30" fill="none" stroke="#c9a06a" stroke-width="0.9" stroke-dasharray="1.2 1.4"/>
<path d="M439.90 256.50L443.50 260.10M443.50 256.50L439.90 260.10M439.90 256.50V260.10M443.50 256.50V260.10" stroke="#c9a06a" stroke-width="0.9" fill="none"/>
<text x="453.90" y="261.90" class="lg">13</text>
<path d="M467.70 258.30L487.70 258.30" fill="none" stroke="#ff8cff" stroke-width="0.9" stroke-dasharray="1.2 1.4"/>
<rect x="475.54" y="256.14" width="4.32" height="4.32" fill="#ff8cff"/>
<text x="489.90" y="261.90" class="lg">14</text>
<path d="M502.70 258.30L522.70 258.30" fill="none" stroke="#c040c8" stroke-width="0.9" stroke-dasharray="1.2 1.4"/>

<text x="524.90" y="261.90" class="lg">15</text>
<g transform="translate(445 268) scale(0.9941 0.8877)"><use href="#mol"/></g>
</svg>
</body></html>
